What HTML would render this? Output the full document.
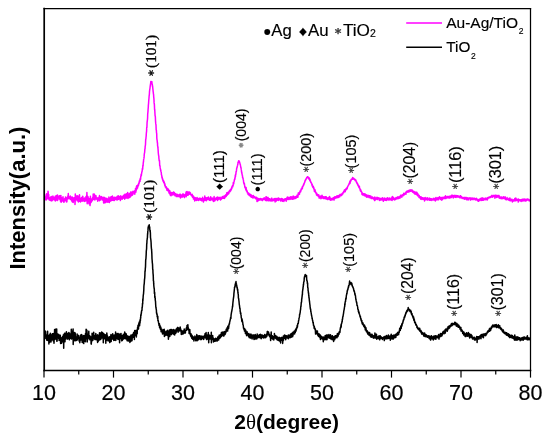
<!DOCTYPE html>
<html><head><meta charset="utf-8"><style>
html,body{margin:0;padding:0;background:#fff;}
body{width:550px;height:443px;overflow:hidden;}
svg{display:block;}
</style></head><body>
<svg width="550" height="443" viewBox="0 0 550 443">
<rect width="550" height="443" fill="#fff"/>
<polyline points="44.8,197.9 44.9,199.8 45.1,199.6 45.2,196.9 45.4,197.2 45.5,196.8 45.6,198.4 45.8,197.5 45.9,198.7 46.1,194.8 46.2,199.9 46.3,197.4 46.5,198.5 46.6,193.7 46.8,197.0 46.9,198.2 47.0,198.8 47.2,197.3 47.3,197.4 47.5,198.7 47.6,196.4 47.7,195.5 47.9,198.4 48.0,191.2 48.2,192.7 48.3,196.8 48.4,197.4 48.6,196.3 48.7,194.6 48.9,198.3 49.0,199.7 49.1,198.1 49.3,197.4 49.4,199.1 49.6,199.7 49.7,198.2 49.8,198.5 50.0,200.3 50.1,198.5 50.3,197.6 50.4,199.4 50.5,199.3 50.7,200.6 50.8,197.0 51.0,198.0 51.1,199.4 51.2,196.4 51.4,200.6 51.5,199.7 51.7,197.8 51.8,200.9 51.9,200.1 52.1,199.8 52.2,199.4 52.4,200.2 52.5,196.8 52.6,199.6 52.8,199.6 52.9,196.0 53.1,199.1 53.2,198.2 53.3,199.7 53.5,197.9 53.6,198.5 53.8,199.0 53.9,197.2 54.0,199.3 54.2,198.3 54.3,199.2 54.5,197.6 54.6,200.0 54.7,197.7 54.9,198.1 55.0,199.3 55.2,200.2 55.3,200.9 55.4,195.9 55.6,199.5 55.7,198.9 55.9,198.0 56.0,196.7 56.1,199.9 56.3,196.2 56.4,198.8 56.6,199.9 56.7,195.5 56.8,197.4 57.0,195.9 57.1,198.1 57.3,199.9 57.4,200.6 57.5,195.0 57.7,196.7 57.8,198.5 58.0,199.8 58.1,198.1 58.2,196.3 58.4,197.9 58.5,197.4 58.7,197.1 58.8,196.4 58.9,198.0 59.1,197.9 59.2,197.4 59.4,197.2 59.5,195.7 59.6,196.9 59.8,199.5 59.9,197.5 60.1,195.7 60.2,199.9 60.3,198.8 60.5,201.2 60.6,199.5 60.8,197.6 60.9,195.5 61.0,200.4 61.2,202.3 61.3,197.5 61.5,197.8 61.6,199.7 61.7,197.8 61.9,198.7 62.0,198.7 62.2,199.6 62.3,201.0 62.4,199.6 62.6,201.0 62.7,199.1 62.9,200.3 63.0,196.8 63.1,197.9 63.3,201.3 63.4,199.3 63.6,201.1 63.7,201.1 63.8,202.2 64.0,201.5 64.1,201.8 64.3,200.2 64.4,199.3 64.5,199.2 64.7,199.5 64.8,198.5 65.0,199.3 65.1,199.9 65.2,200.3 65.4,199.4 65.5,197.0 65.7,199.6 65.8,199.9 65.9,201.0 66.1,200.2 66.2,198.3 66.4,198.1 66.5,201.9 66.6,200.0 66.8,201.4 66.9,201.7 67.1,197.3 67.2,198.9 67.3,198.9 67.5,198.9 67.6,198.8 67.8,198.2 67.9,198.1 68.0,195.6 68.2,197.4 68.3,193.6 68.5,197.7 68.6,196.8 68.7,198.4 68.9,198.6 69.0,197.9 69.2,197.9 69.3,197.6 69.4,196.9 69.6,197.3 69.7,196.9 69.9,198.3 70.0,197.8 70.1,198.7 70.3,196.1 70.4,199.4 70.6,197.1 70.7,197.2 70.8,198.1 71.0,197.7 71.1,199.0 71.3,197.9 71.4,197.3 71.5,197.7 71.7,200.9 71.8,199.2 72.0,197.5 72.1,199.3 72.2,197.1 72.4,201.9 72.5,197.2 72.7,200.1 72.8,200.2 72.9,197.4 73.1,199.9 73.2,202.4 73.4,200.1 73.5,199.8 73.6,200.8 73.8,199.7 73.9,199.9 74.1,198.0 74.2,200.3 74.3,198.0 74.5,200.4 74.6,198.5 74.8,197.6 74.9,199.7 75.0,204.5 75.2,200.4 75.3,194.1 75.5,199.9 75.6,198.2 75.7,198.6 75.9,198.9 76.0,195.4 76.2,198.9 76.3,197.1 76.4,197.6 76.6,196.4 76.7,196.3 76.9,197.1 77.0,199.6 77.1,200.8 77.3,198.4 77.4,199.9 77.6,198.0 77.7,195.7 77.8,198.6 78.0,199.1 78.1,197.8 78.3,198.9 78.4,202.1 78.5,197.3 78.7,196.5 78.8,198.3 79.0,198.3 79.1,198.2 79.2,200.1 79.4,201.2 79.5,194.7 79.7,199.8 79.8,200.2 79.9,199.9 80.1,200.4 80.2,198.4 80.4,200.0 80.5,201.9 80.6,200.2 80.8,198.2 80.9,200.0 81.1,201.0 81.2,200.6 81.3,198.5 81.5,198.2 81.6,197.6 81.8,200.1 81.9,199.4 82.0,197.8 82.2,201.2 82.3,200.0 82.5,197.9 82.6,200.4 82.7,196.3 82.9,197.0 83.0,198.7 83.2,200.0 83.3,200.5 83.4,199.9 83.6,199.7 83.7,200.3 83.9,199.3 84.0,201.2 84.1,199.7 84.3,199.9 84.4,200.2 84.6,197.9 84.7,198.4 84.8,201.4 85.0,199.7 85.1,198.8 85.3,199.6 85.4,198.4 85.5,199.4 85.7,198.0 85.8,199.3 86.0,196.6 86.1,200.7 86.2,199.7 86.4,196.5 86.5,198.4 86.7,198.2 86.8,198.9 86.9,192.5 87.1,199.3 87.2,203.8 87.4,197.0 87.5,199.3 87.6,198.4 87.8,199.2 87.9,196.5 88.1,197.5 88.2,199.8 88.3,201.4 88.5,201.6 88.6,198.4 88.8,199.7 88.9,203.7 89.0,198.6 89.2,198.5 89.3,199.8 89.5,199.8 89.6,201.1 89.7,200.2 89.9,199.0 90.0,205.6 90.2,203.7 90.3,201.8 90.4,196.2 90.6,199.8 90.7,198.8 90.9,200.8 91.0,199.6 91.1,202.5 91.3,201.0 91.4,200.8 91.6,199.7 91.7,199.3 91.8,199.7 92.0,200.9 92.1,199.7 92.3,198.3 92.4,200.5 92.5,200.5 92.7,198.3 92.8,197.2 93.0,197.4 93.1,197.2 93.2,194.1 93.4,199.3 93.5,198.6 93.7,197.4 93.8,199.1 93.9,198.2 94.1,198.0 94.2,194.0 94.4,197.1 94.5,198.2 94.6,199.6 94.8,200.0 94.9,195.1 95.1,195.9 95.2,195.9 95.3,198.3 95.5,197.6 95.6,199.0 95.8,197.5 95.9,198.1 96.0,195.8 96.2,198.6 96.3,197.4 96.5,198.6 96.6,198.9 96.7,197.7 96.9,198.8 97.0,198.5 97.2,199.6 97.3,199.3 97.4,198.0 97.6,198.0 97.7,201.2 97.9,198.7 98.0,200.2 98.1,199.4 98.3,198.1 98.4,197.9 98.6,199.0 98.7,199.2 98.8,199.7 99.0,197.0 99.1,197.9 99.3,198.5 99.4,200.8 99.5,195.5 99.7,199.0 99.8,197.6 100.0,198.8 100.1,197.5 100.2,198.6 100.4,200.1 100.5,198.4 100.7,198.5 100.8,198.3 100.9,196.8 101.1,198.5 101.2,197.2 101.4,196.6 101.5,197.7 101.6,197.4 101.8,198.8 101.9,197.7 102.1,197.1 102.2,199.9 102.3,199.3 102.5,199.8 102.6,199.0 102.8,198.1 102.9,197.8 103.0,198.1 103.2,199.9 103.3,198.9 103.5,199.4 103.6,203.1 103.7,197.2 103.9,199.5 104.0,197.7 104.2,197.8 104.3,200.4 104.4,199.6 104.6,197.6 104.7,201.0 104.9,203.0 105.0,198.1 105.1,202.7 105.3,199.4 105.4,199.7 105.6,200.2 105.7,198.5 105.8,202.3 106.0,201.2 106.1,199.5 106.3,200.2 106.4,198.5 106.5,200.1 106.7,201.8 106.8,198.2 107.0,199.8 107.1,200.6 107.2,201.7 107.4,202.1 107.5,199.6 107.7,199.1 107.8,200.7 107.9,199.5 108.1,199.5 108.2,201.3 108.4,202.1 108.5,200.1 108.6,199.4 108.8,200.4 108.9,197.0 109.1,199.5 109.2,198.0 109.3,202.6 109.5,200.3 109.6,199.5 109.8,199.0 109.9,199.3 110.0,200.1 110.2,201.3 110.3,198.1 110.5,200.0 110.6,200.0 110.7,196.9 110.9,200.3 111.0,200.8 111.2,199.2 111.3,198.8 111.4,200.0 111.6,196.8 111.7,199.0 111.9,200.3 112.0,197.2 112.1,200.2 112.3,198.3 112.4,196.0 112.6,198.7 112.7,197.5 112.8,199.2 113.0,197.3 113.1,200.2 113.3,197.8 113.4,199.3 113.5,198.1 113.7,198.4 113.8,200.4 114.0,199.1 114.1,198.3 114.2,197.2 114.4,200.4 114.5,199.8 114.7,198.4 114.8,199.1 114.9,197.4 115.1,197.4 115.2,197.6 115.4,199.1 115.5,199.0 115.6,197.6 115.8,199.5 115.9,199.5 116.1,198.7 116.2,199.8 116.3,198.0 116.5,198.2 116.6,198.9 116.8,198.2 116.9,199.2 117.0,196.5 117.2,200.0 117.3,197.0 117.5,197.8 117.6,196.2 117.7,198.7 117.9,199.6 118.0,199.3 118.2,198.9 118.3,195.8 118.4,196.8 118.6,197.2 118.7,196.5 118.9,199.2 119.0,197.9 119.1,197.6 119.3,197.0 119.4,196.4 119.6,196.4 119.7,196.4 119.8,198.2 120.0,198.0 120.1,198.3 120.3,198.9 120.4,200.6 120.5,196.8 120.7,197.7 120.8,195.8 121.0,196.8 121.1,198.8 121.2,198.9 121.4,198.9 121.5,197.6 121.7,197.3 121.8,198.9 121.9,197.1 122.1,198.0 122.2,199.3 122.4,197.1 122.5,196.8 122.6,197.5 122.8,198.3 122.9,198.2 123.1,197.7 123.2,198.2 123.3,195.4 123.5,196.4 123.6,197.6 123.8,196.2 123.9,195.6 124.0,195.8 124.2,196.1 124.3,194.7 124.5,195.9 124.6,197.4 124.7,199.2 124.9,194.2 125.0,198.5 125.2,197.2 125.3,195.4 125.4,196.4 125.6,195.4 125.7,197.5 125.9,195.0 126.0,198.1 126.1,197.1 126.3,193.7 126.4,197.2 126.6,198.1 126.7,195.1 126.8,196.3 127.0,193.7 127.1,196.2 127.3,193.8 127.4,196.4 127.5,193.6 127.7,192.5 127.8,196.2 128.0,198.5 128.1,194.9 128.2,196.6 128.4,195.7 128.5,195.1 128.7,196.3 128.8,197.5 128.9,193.9 129.1,196.1 129.2,197.3 129.4,193.5 129.5,197.2 129.6,197.5 129.8,193.9 129.9,197.1 130.1,195.0 130.2,194.6 130.3,196.5 130.5,196.7 130.6,192.0 130.8,196.3 130.9,195.9 131.0,195.3 131.2,192.5 131.3,192.2 131.5,195.3 131.6,192.8 131.7,194.0 131.9,192.4 132.0,193.4 132.2,192.0 132.3,195.3 132.4,192.1 132.6,193.1 132.7,192.9 132.9,194.4 133.0,191.3 133.1,192.8 133.3,192.8 133.4,193.2 133.6,193.1 133.7,191.9 133.8,192.6 134.0,191.8 134.1,192.6 134.3,191.8 134.4,191.1 134.5,191.6 134.7,191.9 134.8,194.2 135.0,190.6 135.1,191.3 135.2,192.3 135.4,190.5 135.5,188.5 135.7,188.8 135.8,189.4 135.9,192.1 136.1,189.8 136.2,190.4 136.4,188.7 136.5,186.2 136.6,186.1 136.8,189.1 136.9,188.0 137.1,186.3 137.2,188.4 137.3,185.6 137.5,187.9 137.6,187.9 137.8,185.5 137.9,184.9 138.0,186.4 138.2,184.4 138.3,185.8 138.5,183.7 138.6,185.1 138.7,184.1 138.9,183.3 139.0,182.5 139.2,183.1 139.3,180.9 139.4,181.8 139.6,180.8 139.7,181.7 139.9,179.7 140.0,181.5 140.1,179.4 140.3,178.3 140.4,179.6 140.6,179.3 140.7,177.3 140.8,176.2 141.0,176.3 141.1,174.5 141.3,174.7 141.4,175.5 141.5,173.8 141.7,173.0 141.8,172.4 142.0,171.4 142.1,171.3 142.2,170.5 142.4,168.7 142.5,168.2 142.7,169.1 142.8,166.7 142.9,165.3 143.1,166.0 143.2,163.5 143.4,161.7 143.5,161.9 143.6,159.7 143.8,158.9 143.9,158.4 144.1,156.9 144.2,155.2 144.3,154.1 144.5,152.8 144.6,152.8 144.8,150.1 144.9,148.8 145.0,149.3 145.2,146.0 145.3,146.0 145.5,144.5 145.6,141.7 145.7,139.3 145.9,139.0 146.0,137.5 146.2,136.0 146.3,133.7 146.4,132.7 146.6,131.1 146.7,127.5 146.9,127.5 147.0,124.7 147.1,122.3 147.3,120.6 147.4,120.3 147.6,117.7 147.7,113.9 147.8,113.2 148.0,111.1 148.1,109.2 148.3,107.1 148.4,104.5 148.5,104.3 148.7,101.3 148.8,99.8 149.0,98.0 149.1,96.2 149.2,95.6 149.4,93.8 149.5,91.6 149.7,90.0 149.8,89.0 149.9,88.8 150.1,87.1 150.2,86.1 150.4,84.8 150.5,84.0 150.6,83.7 150.8,81.6 150.9,83.6 151.1,81.6 151.2,81.5 151.3,82.8 151.5,82.1 151.6,82.1 151.8,82.0 151.9,81.7 152.0,83.5 152.2,84.9 152.3,84.2 152.5,86.6 152.6,85.9 152.7,87.3 152.9,89.3 153.0,90.2 153.2,92.1 153.3,92.2 153.4,93.8 153.6,94.7 153.7,96.8 153.9,98.5 154.0,100.0 154.1,102.9 154.3,103.9 154.4,104.8 154.6,109.6 154.7,109.1 154.8,110.7 155.0,114.2 155.1,115.9 155.3,116.2 155.4,117.7 155.5,120.5 155.7,123.1 155.8,123.9 156.0,125.0 156.1,127.6 156.2,130.2 156.4,130.2 156.5,132.6 156.7,133.6 156.8,137.6 156.9,139.1 157.1,140.1 157.2,141.0 157.4,143.1 157.5,142.8 157.6,145.9 157.8,146.3 157.9,147.7 158.1,149.6 158.2,151.2 158.3,153.0 158.5,154.6 158.6,155.5 158.8,156.0 158.9,158.3 159.0,158.9 159.2,160.9 159.3,160.6 159.5,160.5 159.6,163.0 159.7,165.8 159.9,165.6 160.0,166.1 160.2,167.7 160.3,168.3 160.4,169.1 160.6,169.3 160.7,170.5 160.9,171.3 161.0,171.5 161.1,171.9 161.3,172.7 161.4,174.6 161.6,175.0 161.7,175.5 161.8,176.1 162.0,178.0 162.1,177.0 162.3,178.1 162.4,179.2 162.5,178.5 162.7,179.1 162.8,180.1 163.0,181.0 163.1,180.5 163.2,180.9 163.4,181.2 163.5,180.6 163.7,182.7 163.8,182.1 163.9,181.4 164.1,182.9 164.2,182.1 164.4,182.9 164.5,184.1 164.6,183.7 164.8,185.5 164.9,183.8 165.1,185.5 165.2,186.0 165.3,187.0 165.5,186.9 165.6,186.6 165.8,186.7 165.9,186.8 166.0,188.0 166.2,186.8 166.3,188.0 166.5,187.7 166.6,188.2 166.7,188.0 166.9,190.2 167.0,188.0 167.2,189.0 167.3,189.2 167.4,189.7 167.6,189.8 167.7,190.0 167.9,190.7 168.0,188.7 168.1,190.3 168.3,189.4 168.4,190.9 168.6,189.9 168.7,190.3 168.8,191.3 169.0,192.8 169.1,192.2 169.3,192.2 169.4,193.4 169.5,191.4 169.7,190.5 169.8,192.2 170.0,192.5 170.1,194.0 170.2,194.9 170.4,191.9 170.5,195.4 170.7,194.7 170.8,194.3 170.9,193.7 171.1,195.7 171.2,193.6 171.4,193.1 171.5,193.7 171.6,192.4 171.8,194.1 171.9,193.6 172.1,194.0 172.2,194.1 172.3,192.8 172.5,195.0 172.6,192.9 172.8,194.6 172.9,192.4 173.0,194.2 173.2,193.2 173.3,194.0 173.5,193.4 173.6,192.0 173.7,193.1 173.9,194.3 174.0,194.8 174.2,193.0 174.3,192.4 174.4,193.7 174.6,194.4 174.7,194.0 174.9,194.1 175.0,195.6 175.1,195.8 175.3,195.6 175.4,194.1 175.6,193.6 175.7,194.9 175.8,193.8 176.0,196.0 176.1,195.3 176.3,194.8 176.4,196.6 176.5,196.0 176.7,196.1 176.8,196.5 177.0,196.0 177.1,194.2 177.2,195.0 177.4,196.2 177.5,194.6 177.7,195.3 177.8,195.7 177.9,196.6 178.1,196.5 178.2,196.1 178.4,195.1 178.5,196.1 178.6,195.8 178.8,195.2 178.9,196.6 179.1,195.9 179.2,194.8 179.3,196.7 179.5,195.3 179.6,196.2 179.8,194.3 179.9,195.8 180.0,194.6 180.2,195.1 180.3,194.3 180.5,198.0 180.6,196.0 180.7,196.4 180.9,197.3 181.0,196.2 181.2,196.8 181.3,195.2 181.4,196.6 181.6,196.1 181.7,196.9 181.9,196.6 182.0,195.2 182.1,194.7 182.3,195.5 182.4,197.0 182.6,196.7 182.7,197.0 182.8,194.4 183.0,193.8 183.1,195.6 183.3,195.8 183.4,195.5 183.5,196.3 183.7,195.8 183.8,194.8 184.0,195.0 184.1,195.9 184.2,195.8 184.4,195.6 184.5,197.6 184.7,195.3 184.8,195.6 184.9,194.6 185.1,195.1 185.2,195.8 185.4,195.7 185.5,195.0 185.6,195.4 185.8,195.0 185.9,193.3 186.1,192.0 186.2,196.7 186.3,195.3 186.5,194.4 186.6,192.9 186.8,193.1 186.9,195.2 187.0,191.6 187.2,193.6 187.3,194.5 187.5,193.7 187.6,194.1 187.7,193.3 187.9,195.3 188.0,192.3 188.2,192.0 188.3,193.3 188.4,194.9 188.6,192.9 188.7,193.7 188.9,192.4 189.0,191.9 189.1,194.0 189.3,194.2 189.4,194.2 189.6,192.7 189.7,192.3 189.8,192.4 190.0,193.5 190.1,194.1 190.3,194.2 190.4,192.7 190.5,194.2 190.7,194.3 190.8,194.5 191.0,194.6 191.1,194.6 191.2,195.4 191.4,195.2 191.5,195.5 191.7,194.9 191.8,196.0 191.9,195.7 192.1,194.2 192.2,194.7 192.4,196.1 192.5,197.3 192.6,196.5 192.8,196.7 192.9,197.2 193.1,197.1 193.2,196.9 193.3,195.9 193.5,199.1 193.6,196.3 193.8,197.5 193.9,198.5 194.0,198.3 194.2,198.6 194.3,198.9 194.5,199.4 194.6,198.6 194.7,200.9 194.9,197.6 195.0,198.7 195.2,198.2 195.3,198.1 195.4,198.9 195.6,199.9 195.7,198.0 195.9,198.1 196.0,199.3 196.1,199.2 196.3,200.4 196.4,199.6 196.6,198.9 196.7,198.5 196.8,198.9 197.0,198.6 197.1,197.6 197.3,198.8 197.4,199.7 197.5,198.6 197.7,198.5 197.8,200.3 198.0,199.5 198.1,199.7 198.2,198.4 198.4,200.5 198.5,198.8 198.7,199.2 198.8,198.7 198.9,198.9 199.1,199.9 199.2,199.4 199.4,198.3 199.5,198.8 199.6,198.6 199.8,199.3 199.9,198.2 200.1,199.1 200.2,199.9 200.3,199.3 200.5,198.5 200.6,198.8 200.8,199.5 200.9,199.8 201.0,200.2 201.2,199.4 201.3,198.4 201.5,200.8 201.6,199.8 201.7,200.0 201.9,199.9 202.0,198.4 202.2,199.5 202.3,200.0 202.4,200.7 202.6,199.9 202.7,197.2 202.9,199.7 203.0,200.2 203.1,201.0 203.3,200.5 203.4,202.0 203.6,201.1 203.7,201.0 203.8,200.7 204.0,198.7 204.1,200.6 204.3,200.3 204.4,199.3 204.5,200.2 204.7,200.0 204.8,196.1 205.0,199.5 205.1,199.3 205.2,199.7 205.4,200.4 205.5,199.8 205.7,197.7 205.8,199.0 205.9,197.8 206.1,198.7 206.2,199.5 206.4,200.7 206.5,198.9 206.6,199.0 206.8,200.2 206.9,197.9 207.1,199.5 207.2,197.5 207.3,198.3 207.5,198.8 207.6,197.9 207.8,198.8 207.9,199.2 208.0,197.6 208.2,198.5 208.3,198.3 208.5,197.0 208.6,198.4 208.7,197.9 208.9,199.7 209.0,197.9 209.2,200.1 209.3,198.2 209.4,200.3 209.6,199.2 209.7,199.1 209.9,199.5 210.0,199.6 210.1,200.0 210.3,200.4 210.4,198.7 210.6,198.0 210.7,196.8 210.8,198.8 211.0,199.8 211.1,199.5 211.3,199.3 211.4,198.9 211.5,198.7 211.7,199.1 211.8,199.6 212.0,197.9 212.1,200.0 212.2,198.2 212.4,199.2 212.5,198.9 212.7,199.1 212.8,198.5 212.9,198.4 213.1,199.2 213.2,198.4 213.4,201.4 213.5,199.0 213.6,198.7 213.8,198.8 213.9,198.3 214.1,196.5 214.2,199.0 214.3,199.4 214.5,197.9 214.6,200.9 214.8,198.1 214.9,199.0 215.0,200.6 215.2,199.4 215.3,199.3 215.5,198.4 215.6,199.6 215.7,198.5 215.9,199.2 216.0,199.5 216.2,198.6 216.3,197.8 216.4,199.3 216.6,197.9 216.7,198.1 216.9,197.9 217.0,199.5 217.1,198.6 217.3,196.9 217.4,199.3 217.6,200.4 217.7,200.1 217.8,198.2 218.0,198.7 218.1,199.0 218.3,199.3 218.4,198.6 218.5,197.6 218.7,199.1 218.8,199.0 219.0,197.4 219.1,198.1 219.2,198.6 219.4,198.4 219.5,198.8 219.7,199.0 219.8,198.8 219.9,198.3 220.1,197.3 220.2,198.9 220.4,199.5 220.5,200.0 220.6,198.4 220.8,198.4 220.9,199.5 221.1,199.5 221.2,198.6 221.3,198.9 221.5,197.7 221.6,198.8 221.8,197.6 221.9,198.1 222.0,198.1 222.2,197.8 222.3,196.4 222.5,197.4 222.6,198.2 222.7,197.8 222.9,197.5 223.0,198.1 223.2,198.2 223.3,198.2 223.4,196.8 223.6,197.4 223.7,197.0 223.9,196.5 224.0,195.9 224.1,196.9 224.3,196.2 224.4,198.4 224.6,196.6 224.7,196.4 224.8,196.2 225.0,197.8 225.1,195.5 225.3,196.0 225.4,195.4 225.5,195.8 225.7,195.7 225.8,196.4 226.0,194.4 226.1,195.3 226.2,196.4 226.4,194.7 226.5,194.8 226.7,194.2 226.8,192.7 226.9,194.5 227.1,195.3 227.2,193.9 227.4,192.8 227.5,194.2 227.6,193.9 227.8,194.4 227.9,194.2 228.1,193.2 228.2,193.6 228.3,191.9 228.5,193.8 228.6,193.0 228.8,193.5 228.9,193.3 229.0,192.2 229.2,192.2 229.3,191.5 229.5,190.5 229.6,191.7 229.7,191.7 229.9,190.6 230.0,191.7 230.2,191.1 230.3,191.1 230.4,190.1 230.6,189.2 230.7,190.7 230.9,190.5 231.0,189.6 231.1,189.2 231.3,189.6 231.4,188.8 231.6,188.3 231.7,187.1 231.8,188.6 232.0,186.8 232.1,187.2 232.3,186.9 232.4,186.9 232.5,185.4 232.7,186.8 232.8,186.0 233.0,185.7 233.1,185.6 233.2,184.0 233.4,182.2 233.5,183.7 233.7,183.8 233.8,183.2 233.9,181.8 234.1,181.5 234.2,181.2 234.4,179.6 234.5,179.6 234.6,179.0 234.8,179.5 234.9,177.8 235.1,178.2 235.2,176.8 235.3,175.3 235.5,176.5 235.6,174.3 235.8,174.3 235.9,174.1 236.0,172.3 236.2,171.2 236.3,171.6 236.5,170.4 236.6,169.0 236.7,168.0 236.9,167.9 237.0,167.8 237.2,166.5 237.3,166.2 237.4,166.0 237.6,165.2 237.7,164.7 237.9,164.1 238.0,162.2 238.1,163.0 238.3,162.3 238.4,161.8 238.6,161.1 238.7,160.7 238.8,160.9 239.0,161.4 239.1,160.9 239.3,161.2 239.4,161.5 239.5,162.4 239.7,162.4 239.8,162.8 240.0,164.0 240.1,163.8 240.2,164.7 240.4,164.7 240.5,166.0 240.7,166.6 240.8,167.3 240.9,167.8 241.1,168.3 241.2,169.4 241.4,170.1 241.5,171.6 241.6,172.3 241.8,172.1 241.9,173.9 242.1,174.0 242.2,175.2 242.3,175.4 242.5,175.7 242.6,177.6 242.8,177.8 242.9,177.8 243.0,178.2 243.2,179.4 243.3,179.7 243.5,180.7 243.6,182.0 243.7,182.8 243.9,182.4 244.0,183.8 244.2,184.2 244.3,183.8 244.4,183.6 244.6,185.5 244.7,185.8 244.9,187.3 245.0,187.2 245.1,187.2 245.3,188.2 245.4,187.0 245.6,188.1 245.7,188.2 245.8,189.8 246.0,189.4 246.1,187.5 246.3,190.6 246.4,189.5 246.5,190.9 246.7,190.3 246.8,191.1 247.0,191.6 247.1,191.6 247.2,191.1 247.4,192.9 247.5,192.5 247.7,192.5 247.8,193.2 247.9,192.5 248.1,194.4 248.2,193.5 248.4,193.7 248.5,193.9 248.6,193.2 248.8,193.2 248.9,194.3 249.1,194.5 249.2,195.4 249.3,194.9 249.5,193.9 249.6,195.2 249.8,195.5 249.9,195.7 250.0,195.4 250.2,194.4 250.3,196.2 250.5,194.9 250.6,195.9 250.7,194.5 250.9,196.3 251.0,195.2 251.2,196.7 251.3,197.3 251.4,196.9 251.6,195.3 251.7,195.5 251.9,195.6 252.0,196.8 252.1,196.6 252.3,196.6 252.4,196.7 252.6,197.0 252.7,197.1 252.8,197.9 253.0,196.7 253.1,196.9 253.3,195.4 253.4,195.8 253.5,196.3 253.7,196.0 253.8,197.1 254.0,197.7 254.1,196.6 254.2,196.6 254.4,196.7 254.5,197.2 254.7,196.7 254.8,197.5 254.9,197.4 255.1,197.5 255.2,197.9 255.4,197.4 255.5,197.5 255.6,198.8 255.8,197.5 255.9,198.2 256.1,197.7 256.2,197.4 256.3,197.5 256.5,197.3 256.6,198.0 256.8,197.7 256.9,197.9 257.0,201.6 257.2,199.5 257.3,199.4 257.5,198.8 257.6,199.4 257.7,198.4 257.9,199.1 258.0,201.0 258.2,199.8 258.3,200.0 258.4,199.5 258.6,200.0 258.7,198.6 258.9,198.9 259.0,199.9 259.1,200.2 259.3,199.4 259.4,199.6 259.6,199.4 259.7,199.6 259.8,198.8 260.0,198.7 260.1,199.7 260.3,198.4 260.4,199.0 260.5,199.2 260.7,198.9 260.8,199.9 261.0,199.3 261.1,199.6 261.2,198.8 261.4,199.0 261.5,199.9 261.7,199.8 261.8,199.1 261.9,199.7 262.1,199.6 262.2,199.5 262.4,200.6 262.5,199.1 262.6,199.7 262.8,199.7 262.9,199.3 263.1,198.4 263.2,199.8 263.3,199.5 263.5,199.3 263.6,199.3 263.8,199.3 263.9,198.5 264.0,199.4 264.2,197.8 264.3,199.2 264.5,198.1 264.6,198.9 264.7,199.7 264.9,199.0 265.0,199.7 265.2,199.6 265.3,199.0 265.4,198.9 265.6,198.9 265.7,200.4 265.9,199.7 266.0,196.7 266.1,198.3 266.3,199.7 266.4,200.4 266.6,199.6 266.7,197.1 266.8,200.8 267.0,198.0 267.1,200.2 267.3,199.9 267.4,198.0 267.5,199.1 267.7,200.4 267.8,200.2 268.0,198.1 268.1,197.5 268.2,198.5 268.4,198.6 268.5,198.9 268.7,200.8 268.8,199.5 268.9,199.2 269.1,199.2 269.2,199.9 269.4,200.0 269.5,198.8 269.6,200.6 269.8,198.7 269.9,199.3 270.1,199.9 270.2,200.9 270.3,199.3 270.5,199.8 270.6,200.6 270.8,200.1 270.9,199.8 271.0,200.5 271.2,199.9 271.3,200.2 271.5,200.4 271.6,198.2 271.7,201.0 271.9,198.3 272.0,199.1 272.2,200.9 272.3,200.1 272.4,199.3 272.6,200.1 272.7,200.6 272.9,199.4 273.0,200.4 273.1,199.7 273.3,199.7 273.4,199.6 273.6,200.6 273.7,198.9 273.8,199.5 274.0,200.3 274.1,198.9 274.3,198.6 274.4,200.2 274.5,199.7 274.7,199.6 274.8,199.8 275.0,199.0 275.1,201.9 275.2,198.9 275.4,199.3 275.5,198.6 275.7,199.3 275.8,200.8 275.9,199.6 276.1,200.1 276.2,199.2 276.4,200.9 276.5,199.7 276.6,198.6 276.8,200.1 276.9,199.3 277.1,200.0 277.2,199.6 277.3,199.7 277.5,199.6 277.6,198.8 277.8,198.4 277.9,200.2 278.0,199.4 278.2,199.7 278.3,199.1 278.5,198.0 278.6,198.5 278.7,200.5 278.9,198.9 279.0,199.2 279.2,198.4 279.3,199.1 279.4,199.2 279.6,199.3 279.7,199.4 279.9,199.0 280.0,199.1 280.1,199.5 280.3,199.8 280.4,198.9 280.6,200.9 280.7,199.8 280.8,199.8 281.0,199.2 281.1,200.5 281.3,199.0 281.4,198.6 281.5,199.1 281.7,200.3 281.8,199.0 282.0,200.9 282.1,199.7 282.2,198.8 282.4,201.2 282.5,201.3 282.7,199.4 282.8,199.0 282.9,200.4 283.1,200.9 283.2,200.7 283.4,199.7 283.5,200.1 283.6,200.1 283.8,200.7 283.9,201.4 284.1,199.7 284.2,200.7 284.3,199.4 284.5,200.1 284.6,198.9 284.8,199.0 284.9,199.8 285.0,198.8 285.2,200.0 285.3,198.9 285.5,199.3 285.6,199.1 285.7,198.9 285.9,199.1 286.0,199.8 286.2,201.2 286.3,198.4 286.4,199.1 286.6,198.7 286.7,198.1 286.9,198.9 287.0,198.0 287.1,198.6 287.3,199.5 287.4,197.1 287.6,198.8 287.7,198.9 287.8,197.9 288.0,198.9 288.1,198.8 288.3,198.3 288.4,199.4 288.5,197.6 288.7,199.0 288.8,197.4 289.0,197.7 289.1,198.4 289.2,198.2 289.4,199.1 289.5,197.4 289.7,198.3 289.8,198.1 289.9,199.5 290.1,197.6 290.2,199.1 290.4,197.1 290.5,198.2 290.6,197.0 290.8,198.5 290.9,197.7 291.1,196.8 291.2,197.1 291.3,199.0 291.5,198.2 291.6,197.4 291.8,198.6 291.9,197.4 292.0,197.4 292.2,197.0 292.3,198.7 292.5,199.2 292.6,197.1 292.7,198.0 292.9,198.4 293.0,199.2 293.2,196.1 293.3,197.8 293.4,198.2 293.6,196.7 293.7,198.0 293.9,198.8 294.0,198.2 294.1,197.3 294.3,197.9 294.4,197.2 294.6,198.0 294.7,197.7 294.8,197.3 295.0,196.6 295.1,198.6 295.3,198.2 295.4,198.0 295.5,196.9 295.7,197.1 295.8,198.3 296.0,196.4 296.1,196.5 296.2,197.0 296.4,196.4 296.5,196.6 296.7,196.0 296.8,197.4 296.9,196.8 297.1,196.1 297.2,195.1 297.4,195.6 297.5,195.8 297.6,196.2 297.8,195.2 297.9,197.3 298.1,194.8 298.2,194.4 298.3,192.9 298.5,193.7 298.6,193.3 298.8,193.9 298.9,194.0 299.0,194.4 299.2,193.3 299.3,192.4 299.5,194.3 299.6,192.8 299.7,192.2 299.9,192.2 300.0,191.1 300.2,192.1 300.3,191.7 300.4,192.1 300.6,191.6 300.7,191.2 300.9,191.2 301.0,190.1 301.1,189.0 301.3,189.8 301.4,188.8 301.6,189.2 301.7,188.9 301.8,189.2 302.0,188.5 302.1,187.2 302.3,188.0 302.4,188.5 302.5,186.4 302.7,186.7 302.8,186.8 303.0,185.8 303.1,185.9 303.2,185.8 303.4,184.8 303.5,185.3 303.7,185.0 303.8,183.8 303.9,184.0 304.1,184.1 304.2,183.2 304.4,183.1 304.5,182.8 304.6,182.0 304.8,182.2 304.9,181.5 305.1,180.5 305.2,180.8 305.3,180.6 305.5,180.3 305.6,179.3 305.8,179.5 305.9,179.6 306.0,179.0 306.2,179.0 306.3,178.8 306.5,178.0 306.6,178.1 306.7,177.5 306.9,178.0 307.0,177.3 307.2,177.1 307.3,177.2 307.4,177.1 307.6,177.3 307.7,177.4 307.9,176.7 308.0,177.0 308.1,177.5 308.3,177.6 308.4,177.6 308.6,178.8 308.7,178.3 308.8,178.0 309.0,178.5 309.1,179.0 309.3,178.8 309.4,178.1 309.5,179.2 309.7,179.4 309.8,180.6 310.0,179.2 310.1,180.9 310.2,180.5 310.4,181.2 310.5,181.0 310.7,181.5 310.8,182.3 310.9,182.1 311.1,182.9 311.2,182.7 311.4,182.9 311.5,183.3 311.6,183.5 311.8,184.0 311.9,185.1 312.1,184.1 312.2,184.2 312.3,185.4 312.5,186.6 312.6,186.6 312.8,187.0 312.9,187.3 313.0,186.6 313.2,187.4 313.3,186.2 313.5,187.8 313.6,188.6 313.7,187.7 313.9,187.7 314.0,188.4 314.2,189.6 314.3,190.4 314.4,191.5 314.6,191.2 314.7,189.7 314.9,189.5 315.0,191.2 315.1,192.0 315.3,190.7 315.4,191.6 315.6,191.9 315.7,192.4 315.8,192.5 316.0,193.1 316.1,193.7 316.3,193.3 316.4,193.9 316.5,194.9 316.7,193.2 316.8,193.4 317.0,194.5 317.1,195.5 317.2,194.6 317.4,195.4 317.5,194.6 317.7,195.6 317.8,194.7 317.9,195.7 318.1,194.7 318.2,195.8 318.4,196.6 318.5,196.5 318.6,195.5 318.8,196.6 318.9,195.1 319.1,196.9 319.2,198.2 319.3,196.7 319.5,196.9 319.6,196.7 319.8,197.3 319.9,196.6 320.0,197.4 320.2,196.8 320.3,196.3 320.5,197.2 320.6,197.2 320.7,196.1 320.9,198.7 321.0,197.4 321.2,196.2 321.3,198.1 321.4,197.4 321.6,197.5 321.7,197.9 321.9,196.8 322.0,195.3 322.1,197.3 322.3,195.9 322.4,198.1 322.6,196.9 322.7,197.2 322.8,197.6 323.0,197.2 323.1,197.2 323.3,196.7 323.4,196.7 323.5,198.4 323.7,197.2 323.8,197.4 324.0,197.2 324.1,197.0 324.2,197.8 324.4,198.2 324.5,198.5 324.7,197.0 324.8,197.3 324.9,198.2 325.1,196.7 325.2,197.7 325.4,198.1 325.5,198.1 325.6,197.0 325.8,196.8 325.9,199.0 326.1,198.0 326.2,196.8 326.3,197.1 326.5,198.0 326.6,198.8 326.8,198.1 326.9,198.9 327.0,198.3 327.2,198.5 327.3,198.8 327.5,199.6 327.6,198.4 327.7,198.0 327.9,197.8 328.0,198.9 328.2,197.7 328.3,198.4 328.4,197.8 328.6,198.3 328.7,198.0 328.9,199.2 329.0,198.5 329.1,198.5 329.3,199.6 329.4,196.6 329.6,197.9 329.7,196.8 329.8,198.7 330.0,199.1 330.1,199.3 330.3,199.1 330.4,198.3 330.5,200.2 330.7,199.2 330.8,198.9 331.0,198.4 331.1,199.4 331.2,198.9 331.4,198.9 331.5,199.4 331.7,199.4 331.8,198.7 331.9,200.1 332.1,198.6 332.2,198.5 332.4,199.4 332.5,199.2 332.6,199.2 332.8,198.8 332.9,199.0 333.1,198.5 333.2,197.7 333.3,199.2 333.5,198.0 333.6,198.4 333.8,199.0 333.9,198.4 334.0,200.1 334.2,197.2 334.3,197.6 334.5,198.1 334.6,198.8 334.7,197.7 334.9,196.8 335.0,198.4 335.2,197.0 335.3,197.4 335.4,198.0 335.6,196.9 335.7,197.0 335.9,197.6 336.0,197.0 336.1,197.3 336.3,196.4 336.4,196.9 336.6,196.2 336.7,195.9 336.8,198.0 337.0,197.1 337.1,197.4 337.3,196.1 337.4,196.7 337.5,196.5 337.7,195.7 337.8,196.9 338.0,196.0 338.1,196.3 338.2,195.4 338.4,197.5 338.5,196.8 338.7,196.5 338.8,195.7 338.9,195.8 339.1,196.9 339.2,195.9 339.4,196.2 339.5,196.0 339.6,195.2 339.8,196.8 339.9,194.5 340.1,194.8 340.2,195.5 340.3,194.4 340.5,195.6 340.6,195.6 340.8,195.2 340.9,194.5 341.0,195.2 341.2,195.5 341.3,194.8 341.5,195.6 341.6,194.9 341.7,194.7 341.9,194.9 342.0,193.5 342.2,193.5 342.3,193.9 342.4,193.8 342.6,194.2 342.7,193.8 342.9,193.1 343.0,192.9 343.1,192.5 343.3,192.3 343.4,192.1 343.6,192.7 343.7,191.3 343.8,191.7 344.0,191.8 344.1,191.3 344.3,191.3 344.4,190.0 344.5,191.3 344.7,190.8 344.8,190.9 345.0,190.9 345.1,189.5 345.2,191.7 345.4,190.3 345.5,190.1 345.7,188.9 345.8,190.0 345.9,189.7 346.1,189.1 346.2,189.2 346.4,189.6 346.5,188.5 346.6,188.0 346.8,188.9 346.9,188.1 347.1,187.7 347.2,188.7 347.3,187.3 347.5,186.9 347.6,186.9 347.8,186.3 347.9,186.3 348.0,186.0 348.2,185.3 348.3,185.3 348.5,185.2 348.6,185.0 348.7,184.8 348.9,184.6 349.0,183.8 349.2,183.9 349.3,183.2 349.4,183.0 349.6,183.3 349.7,181.7 349.9,182.4 350.0,183.4 350.1,181.0 350.3,182.1 350.4,180.5 350.6,181.1 350.7,181.4 350.8,180.9 351.0,179.9 351.1,179.5 351.3,179.3 351.4,180.0 351.5,179.4 351.7,179.4 351.8,179.3 352.0,179.3 352.1,179.2 352.2,178.9 352.4,178.1 352.5,179.3 352.7,177.5 352.8,179.1 352.9,178.3 353.1,178.5 353.2,178.7 353.4,178.5 353.5,178.6 353.6,178.6 353.8,178.3 353.9,179.2 354.1,178.7 354.2,179.4 354.3,179.1 354.5,179.0 354.6,179.6 354.8,179.9 354.9,179.3 355.0,179.7 355.2,180.6 355.3,179.8 355.5,180.1 355.6,180.7 355.7,180.3 355.9,180.0 356.0,180.6 356.2,181.7 356.3,182.0 356.4,182.2 356.6,182.4 356.7,181.9 356.9,183.0 357.0,183.5 357.1,182.8 357.3,183.9 357.4,183.6 357.6,184.1 357.7,184.5 357.8,183.9 358.0,185.6 358.1,184.7 358.3,185.4 358.4,185.5 358.5,186.2 358.7,186.5 358.8,186.6 359.0,187.6 359.1,187.3 359.2,187.3 359.4,186.2 359.5,188.0 359.7,188.3 359.8,188.2 359.9,188.5 360.1,189.6 360.2,190.1 360.4,190.9 360.5,190.8 360.6,190.1 360.8,190.9 360.9,190.0 361.1,191.6 361.2,191.7 361.3,191.4 361.5,191.9 361.6,192.0 361.8,192.0 361.9,193.3 362.0,194.5 362.2,193.4 362.3,193.7 362.5,193.4 362.6,193.3 362.7,194.9 362.9,193.5 363.0,194.1 363.2,193.9 363.3,194.5 363.4,194.2 363.6,194.7 363.7,193.7 363.9,194.5 364.0,195.4 364.1,194.1 364.3,194.4 364.4,195.7 364.6,195.2 364.7,195.6 364.8,193.7 365.0,195.2 365.1,194.4 365.3,194.4 365.4,195.5 365.5,196.0 365.7,194.5 365.8,194.7 366.0,195.1 366.1,195.4 366.2,194.7 366.4,197.0 366.5,196.0 366.7,195.5 366.8,195.4 366.9,197.2 367.1,196.9 367.2,195.6 367.4,196.1 367.5,196.8 367.6,195.3 367.8,195.9 367.9,196.9 368.1,195.7 368.2,195.9 368.3,195.4 368.5,195.8 368.6,196.7 368.8,195.8 368.9,195.6 369.0,196.1 369.2,197.7 369.3,196.7 369.5,195.8 369.6,196.8 369.7,197.3 369.9,196.9 370.0,195.7 370.2,197.2 370.3,196.9 370.4,197.7 370.6,196.3 370.7,197.9 370.9,197.0 371.0,196.3 371.1,198.4 371.3,197.2 371.4,197.6 371.6,197.6 371.7,198.0 371.8,198.6 372.0,198.6 372.1,198.5 372.3,197.0 372.4,197.0 372.5,198.3 372.7,197.6 372.8,198.6 373.0,198.4 373.1,197.4 373.2,197.7 373.4,197.7 373.5,197.9 373.7,198.3 373.8,198.9 373.9,199.4 374.1,197.9 374.2,198.2 374.4,199.6 374.5,198.8 374.6,200.6 374.8,197.1 374.9,198.0 375.1,198.7 375.2,198.2 375.3,199.9 375.5,198.7 375.6,198.8 375.8,197.9 375.9,197.9 376.0,198.2 376.2,198.2 376.3,198.5 376.5,198.8 376.6,198.7 376.7,199.2 376.9,197.7 377.0,197.2 377.2,198.7 377.3,199.6 377.4,198.4 377.6,198.7 377.7,198.0 377.9,198.8 378.0,198.8 378.1,198.1 378.3,198.2 378.4,198.5 378.6,198.9 378.7,197.8 378.8,199.2 379.0,198.4 379.1,199.9 379.3,199.6 379.4,198.4 379.5,198.3 379.7,200.4 379.8,199.2 380.0,199.2 380.1,198.6 380.2,198.8 380.4,199.5 380.5,199.4 380.7,198.5 380.8,199.9 380.9,199.0 381.1,198.6 381.2,199.9 381.4,199.1 381.5,199.8 381.6,199.0 381.8,199.6 381.9,198.3 382.1,199.7 382.2,198.4 382.3,199.6 382.5,197.8 382.6,199.5 382.8,200.0 382.9,199.9 383.0,200.3 383.2,198.9 383.3,201.3 383.5,200.6 383.6,198.8 383.7,199.1 383.9,199.2 384.0,199.6 384.2,199.7 384.3,197.9 384.4,199.9 384.6,199.3 384.7,198.8 384.9,200.1 385.0,199.2 385.1,200.2 385.3,199.8 385.4,199.7 385.6,200.1 385.7,199.9 385.8,199.0 386.0,198.3 386.1,198.9 386.3,199.7 386.4,199.1 386.5,200.4 386.7,199.4 386.8,199.4 387.0,199.5 387.1,198.6 387.2,199.1 387.4,198.8 387.5,197.7 387.7,198.0 387.8,199.7 387.9,198.9 388.1,199.1 388.2,198.2 388.4,198.8 388.5,199.6 388.6,199.2 388.8,198.8 388.9,200.1 389.1,199.0 389.2,198.8 389.3,199.8 389.5,197.9 389.6,198.1 389.8,198.2 389.9,198.4 390.0,198.5 390.2,199.0 390.3,198.9 390.5,199.0 390.6,199.0 390.7,199.7 390.9,199.9 391.0,199.2 391.2,199.2 391.3,198.5 391.4,198.0 391.6,199.1 391.7,198.7 391.9,199.2 392.0,197.5 392.1,200.4 392.3,196.5 392.4,198.7 392.6,199.3 392.7,197.8 392.8,198.3 393.0,197.2 393.1,197.8 393.3,197.4 393.4,198.8 393.5,198.9 393.7,198.5 393.8,199.5 394.0,199.6 394.1,198.7 394.2,198.5 394.4,198.5 394.5,198.4 394.7,199.5 394.8,199.9 394.9,198.4 395.1,198.4 395.2,198.9 395.4,198.3 395.5,198.7 395.6,198.4 395.8,199.3 395.9,199.1 396.1,197.4 396.2,198.2 396.3,198.7 396.5,197.9 396.6,198.7 396.8,198.3 396.9,198.4 397.0,198.0 397.2,198.2 397.3,198.3 397.5,197.0 397.6,197.3 397.7,197.1 397.9,198.8 398.0,197.9 398.2,197.9 398.3,197.7 398.4,197.8 398.6,197.0 398.7,197.9 398.9,197.1 399.0,198.2 399.1,197.3 399.3,197.2 399.4,196.9 399.6,197.0 399.7,197.0 399.8,197.8 400.0,198.2 400.1,196.0 400.3,196.8 400.4,197.0 400.5,196.0 400.7,196.1 400.8,196.1 401.0,194.9 401.1,196.7 401.2,196.2 401.4,196.1 401.5,196.1 401.7,196.2 401.8,197.3 401.9,196.0 402.1,196.3 402.2,195.3 402.4,195.9 402.5,195.4 402.6,195.4 402.8,194.9 402.9,194.5 403.1,195.5 403.2,195.6 403.3,195.3 403.5,194.5 403.6,195.0 403.8,193.2 403.9,195.1 404.0,194.4 404.2,194.5 404.3,194.8 404.5,193.8 404.6,194.5 404.7,193.5 404.9,194.0 405.0,193.3 405.2,193.6 405.3,194.1 405.4,192.8 405.6,192.7 405.7,192.7 405.9,193.0 406.0,194.2 406.1,192.3 406.3,191.4 406.4,192.0 406.6,191.4 406.7,191.9 406.8,192.1 407.0,191.3 407.1,191.6 407.3,190.9 407.4,191.9 407.5,191.2 407.7,192.2 407.8,191.4 408.0,191.1 408.1,191.3 408.2,191.4 408.4,191.7 408.5,190.4 408.7,191.2 408.8,192.1 408.9,191.0 409.1,191.2 409.2,191.0 409.4,190.3 409.5,191.4 409.6,190.3 409.8,190.9 409.9,191.2 410.1,191.2 410.2,189.8 410.3,191.0 410.5,190.4 410.6,190.8 410.8,190.3 410.9,190.3 411.0,191.2 411.2,190.7 411.3,190.6 411.5,190.6 411.6,190.9 411.7,190.9 411.9,189.7 412.0,190.5 412.2,190.9 412.3,191.5 412.4,191.9 412.6,190.7 412.7,192.3 412.9,191.4 413.0,191.7 413.1,191.3 413.3,191.2 413.4,192.5 413.6,191.7 413.7,191.9 413.8,192.7 414.0,193.1 414.1,191.4 414.3,192.2 414.4,192.4 414.5,193.6 414.7,194.0 414.8,192.7 415.0,193.1 415.1,193.5 415.2,193.7 415.4,193.0 415.5,193.8 415.7,194.3 415.8,192.0 415.9,192.9 416.1,193.8 416.2,194.3 416.4,192.6 416.5,193.0 416.6,194.1 416.8,192.3 416.9,194.7 417.1,195.1 417.2,192.9 417.3,195.2 417.5,194.7 417.6,195.8 417.8,195.3 417.9,195.1 418.0,193.9 418.2,196.1 418.3,195.8 418.5,195.8 418.6,195.1 418.7,196.3 418.9,196.2 419.0,197.4 419.2,195.4 419.3,196.5 419.4,196.3 419.6,197.2 419.7,196.8 419.9,196.6 420.0,198.0 420.1,198.2 420.3,197.0 420.4,196.7 420.6,198.1 420.7,197.0 420.8,199.2 421.0,197.5 421.1,198.3 421.3,197.0 421.4,197.8 421.5,198.5 421.7,198.2 421.8,197.6 422.0,199.5 422.1,198.5 422.2,197.9 422.4,197.8 422.5,198.0 422.7,199.0 422.8,197.8 422.9,198.3 423.1,197.9 423.2,199.2 423.4,198.4 423.5,199.1 423.6,198.9 423.8,198.3 423.9,199.1 424.1,199.3 424.2,198.1 424.3,199.0 424.5,201.0 424.6,198.7 424.8,199.3 424.9,198.1 425.0,199.2 425.2,197.5 425.3,199.6 425.5,199.0 425.6,198.3 425.7,199.7 425.9,198.9 426.0,198.5 426.2,199.1 426.3,198.5 426.4,199.3 426.6,199.1 426.7,198.9 426.9,199.5 427.0,198.3 427.1,199.7 427.3,197.8 427.4,200.1 427.6,199.2 427.7,198.9 427.8,198.6 428.0,199.4 428.1,199.0 428.3,199.0 428.4,199.7 428.5,198.8 428.7,198.9 428.8,199.4 429.0,199.8 429.1,198.1 429.2,199.2 429.4,199.2 429.5,199.6 429.7,200.1 429.8,198.6 429.9,199.1 430.1,199.2 430.2,199.6 430.4,200.2 430.5,199.3 430.6,199.4 430.8,200.0 430.9,198.6 431.1,198.9 431.2,199.1 431.3,199.3 431.5,199.5 431.6,199.0 431.8,200.4 431.9,198.9 432.0,199.2 432.2,200.0 432.3,199.8 432.5,199.3 432.6,199.5 432.7,199.8 432.9,199.3 433.0,199.7 433.2,198.7 433.3,199.3 433.4,198.3 433.6,198.7 433.7,198.6 433.9,200.1 434.0,199.0 434.1,199.5 434.3,198.7 434.4,199.2 434.6,199.2 434.7,198.8 434.8,199.9 435.0,198.3 435.1,199.8 435.3,201.0 435.4,198.9 435.5,199.4 435.7,198.4 435.8,199.4 436.0,197.4 436.1,199.8 436.2,199.1 436.4,198.3 436.5,198.6 436.7,198.4 436.8,199.2 436.9,199.9 437.1,199.1 437.2,198.6 437.4,198.8 437.5,199.3 437.6,197.7 437.8,199.6 437.9,199.4 438.1,197.6 438.2,199.8 438.3,198.0 438.5,198.8 438.6,199.7 438.8,197.9 438.9,197.7 439.0,198.1 439.2,198.1 439.3,198.6 439.5,196.8 439.6,198.3 439.7,198.2 439.9,198.4 440.0,197.9 440.2,198.6 440.3,198.3 440.4,197.7 440.6,199.4 440.7,197.5 440.9,198.7 441.0,197.7 441.1,198.4 441.3,198.5 441.4,198.7 441.6,199.0 441.7,197.6 441.8,200.2 442.0,198.4 442.1,197.6 442.3,197.3 442.4,199.5 442.5,199.3 442.7,198.1 442.8,198.5 443.0,198.9 443.1,198.1 443.2,197.8 443.4,198.0 443.5,198.5 443.7,198.0 443.8,197.2 443.9,198.4 444.1,196.9 444.2,197.4 444.4,198.6 444.5,198.0 444.6,197.9 444.8,197.8 444.9,198.6 445.1,198.2 445.2,196.5 445.3,197.8 445.5,195.7 445.6,196.3 445.8,198.5 445.9,198.1 446.0,197.2 446.2,197.4 446.3,197.4 446.5,198.0 446.6,196.9 446.7,196.8 446.9,196.9 447.0,197.4 447.2,197.4 447.3,196.8 447.4,197.7 447.6,196.6 447.7,197.2 447.9,196.8 448.0,196.6 448.1,197.9 448.3,197.0 448.4,196.6 448.6,197.2 448.7,197.5 448.8,197.5 449.0,197.6 449.1,197.7 449.3,196.4 449.4,197.0 449.5,198.1 449.7,196.8 449.8,197.7 450.0,197.8 450.1,196.1 450.2,197.5 450.4,197.2 450.5,197.2 450.7,197.6 450.8,196.9 450.9,196.6 451.1,196.9 451.2,196.3 451.4,196.7 451.5,195.2 451.6,197.4 451.8,196.0 451.9,196.6 452.1,196.4 452.2,196.3 452.3,196.3 452.5,196.2 452.6,195.3 452.8,195.9 452.9,195.9 453.0,195.6 453.2,195.6 453.3,197.9 453.5,196.9 453.6,197.1 453.7,196.2 453.9,196.4 454.0,196.3 454.2,196.6 454.3,196.2 454.4,195.5 454.6,195.9 454.7,195.5 454.9,197.2 455.0,196.1 455.1,196.3 455.3,196.5 455.4,196.4 455.6,196.2 455.7,196.1 455.8,195.5 456.0,197.4 456.1,195.4 456.3,196.1 456.4,196.0 456.5,196.1 456.7,196.4 456.8,196.8 457.0,195.8 457.1,196.6 457.2,196.4 457.4,197.1 457.5,195.7 457.7,196.5 457.8,196.8 457.9,195.7 458.1,196.5 458.2,196.6 458.4,196.0 458.5,196.4 458.6,197.1 458.8,196.7 458.9,196.4 459.1,196.5 459.2,196.9 459.3,197.5 459.5,197.2 459.6,197.2 459.8,197.8 459.9,196.1 460.0,196.2 460.2,195.8 460.3,197.6 460.5,195.8 460.6,197.2 460.7,197.7 460.9,196.5 461.0,197.0 461.2,197.2 461.3,197.8 461.4,196.6 461.6,197.7 461.7,197.9 461.9,197.7 462.0,197.7 462.1,198.4 462.3,197.8 462.4,197.7 462.6,197.5 462.7,198.1 462.8,197.6 463.0,198.2 463.1,197.9 463.3,198.5 463.4,197.4 463.5,198.0 463.7,198.1 463.8,198.2 464.0,198.6 464.1,198.2 464.2,198.6 464.4,199.2 464.5,198.6 464.7,197.5 464.8,197.3 464.9,198.5 465.1,197.9 465.2,198.4 465.4,198.1 465.5,199.0 465.6,198.9 465.8,197.6 465.9,198.4 466.1,198.1 466.2,197.6 466.3,198.7 466.5,198.3 466.6,198.6 466.8,199.8 466.9,199.2 467.0,199.1 467.2,198.2 467.3,197.8 467.5,199.2 467.6,198.5 467.7,198.6 467.9,198.3 468.0,198.6 468.2,200.0 468.3,198.4 468.4,198.5 468.6,198.8 468.7,198.9 468.9,198.0 469.0,197.7 469.1,198.4 469.3,198.6 469.4,198.3 469.6,198.2 469.7,198.3 469.8,198.6 470.0,198.8 470.1,197.9 470.3,198.6 470.4,200.1 470.5,198.8 470.7,198.1 470.8,198.7 471.0,197.9 471.1,199.4 471.2,198.0 471.4,199.4 471.5,198.7 471.7,199.1 471.8,199.4 471.9,198.5 472.1,198.5 472.2,199.0 472.4,198.3 472.5,199.1 472.6,198.1 472.8,198.5 472.9,199.1 473.1,199.6 473.2,198.6 473.3,198.7 473.5,198.7 473.6,198.8 473.8,198.3 473.9,198.6 474.0,198.9 474.2,198.9 474.3,198.8 474.5,198.2 474.6,198.5 474.7,198.4 474.9,199.5 475.0,199.7 475.2,199.1 475.3,199.9 475.4,198.8 475.6,198.9 475.7,199.7 475.9,199.3 476.0,198.9 476.1,199.3 476.3,199.6 476.4,198.2 476.6,198.7 476.7,199.4 476.8,199.4 477.0,199.5 477.1,200.0 477.3,199.5 477.4,199.5 477.5,200.7 477.7,200.4 477.8,199.7 478.0,199.3 478.1,200.7 478.2,200.1 478.4,200.4 478.5,201.3 478.7,199.8 478.8,200.0 478.9,199.7 479.1,200.0 479.2,199.7 479.4,199.3 479.5,200.5 479.6,199.9 479.8,200.6 479.9,199.5 480.1,199.9 480.2,200.1 480.3,198.6 480.5,198.9 480.6,200.0 480.8,199.6 480.9,198.5 481.0,199.1 481.2,198.9 481.3,199.2 481.5,200.3 481.6,199.0 481.7,200.5 481.9,199.2 482.0,197.8 482.2,200.1 482.3,199.8 482.4,200.0 482.6,200.3 482.7,199.8 482.9,199.8 483.0,198.1 483.1,198.6 483.3,199.3 483.4,199.2 483.6,199.4 483.7,198.8 483.8,199.6 484.0,200.1 484.1,199.3 484.3,199.4 484.4,199.2 484.5,199.4 484.7,199.0 484.8,198.6 485.0,199.0 485.1,198.9 485.2,198.0 485.4,198.9 485.5,198.8 485.7,198.9 485.8,199.8 485.9,199.0 486.1,199.1 486.2,198.3 486.4,198.9 486.5,199.2 486.6,199.1 486.8,198.2 486.9,198.2 487.1,198.7 487.2,198.0 487.3,200.0 487.5,198.1 487.6,198.1 487.8,198.8 487.9,198.2 488.0,197.6 488.2,198.2 488.3,197.7 488.5,197.9 488.6,197.2 488.7,197.5 488.9,197.9 489.0,197.8 489.2,197.2 489.3,197.3 489.4,197.2 489.6,197.6 489.7,197.4 489.9,196.7 490.0,197.7 490.1,196.9 490.3,197.4 490.4,196.6 490.6,197.2 490.7,196.9 490.8,196.9 491.0,197.1 491.1,197.0 491.3,196.8 491.4,196.8 491.5,196.0 491.7,196.6 491.8,195.4 492.0,195.3 492.1,196.3 492.2,196.3 492.4,197.2 492.5,196.7 492.7,196.0 492.8,196.1 492.9,196.5 493.1,196.8 493.2,196.5 493.4,196.3 493.5,196.2 493.6,195.6 493.8,195.6 493.9,195.3 494.1,196.2 494.2,195.9 494.3,195.6 494.5,196.2 494.6,195.7 494.8,196.5 494.9,198.3 495.0,196.2 495.2,195.6 495.3,195.2 495.5,197.0 495.6,196.3 495.7,195.4 495.9,196.6 496.0,195.2 496.2,195.9 496.3,196.0 496.4,196.0 496.6,195.6 496.7,197.5 496.9,196.0 497.0,196.5 497.1,196.3 497.3,195.5 497.4,196.1 497.6,196.5 497.7,197.0 497.8,196.3 498.0,196.8 498.1,196.4 498.3,197.0 498.4,195.4 498.5,196.7 498.7,196.5 498.8,196.5 499.0,195.4 499.1,196.4 499.2,197.3 499.4,198.3 499.5,196.7 499.7,196.8 499.8,197.5 499.9,197.4 500.1,197.0 500.2,197.2 500.4,198.0 500.5,197.7 500.6,197.8 500.8,198.4 500.9,197.3 501.1,197.9 501.2,197.6 501.3,198.0 501.5,197.0 501.6,198.7 501.8,197.7 501.9,198.4 502.0,197.2 502.2,198.2 502.3,197.9 502.5,197.5 502.6,197.3 502.7,197.2 502.9,198.7 503.0,198.4 503.2,197.8 503.3,197.9 503.4,197.4 503.6,196.8 503.7,196.9 503.9,197.5 504.0,197.8 504.1,197.3 504.3,198.4 504.4,198.3 504.6,198.2 504.7,197.2 504.8,198.1 505.0,198.2 505.1,197.6 505.3,196.9 505.4,199.5 505.5,198.8 505.7,198.4 505.8,199.5 506.0,199.3 506.1,199.0 506.2,198.9 506.4,199.3 506.5,199.7 506.7,199.0 506.8,198.9 506.9,199.4 507.1,197.6 507.2,199.2 507.4,199.0 507.5,199.3 507.6,199.2 507.8,199.5 507.9,199.4 508.1,199.4 508.2,199.4 508.3,199.3 508.5,199.2 508.6,200.1 508.8,198.6 508.9,199.7 509.0,199.8 509.2,198.9 509.3,198.6 509.5,200.4 509.6,199.6 509.7,199.2 509.9,198.0 510.0,199.9 510.2,199.7 510.3,200.0 510.4,200.8 510.6,199.7 510.7,199.8 510.9,199.3 511.0,200.8 511.1,199.7 511.3,200.2 511.4,200.1 511.6,199.4 511.7,199.6 511.8,200.6 512.0,199.3 512.1,200.3 512.3,200.8 512.4,202.0 512.5,200.1 512.7,200.8 512.8,200.2 513.0,200.1 513.1,200.0 513.2,200.8 513.4,200.5 513.5,201.0 513.7,200.0 513.8,200.0 513.9,199.9 514.1,200.3 514.2,199.8 514.4,200.7 514.5,200.4 514.6,199.6 514.8,198.5 514.9,199.1 515.1,200.9 515.2,200.1 515.3,200.2 515.5,199.8 515.6,200.3 515.8,198.0 515.9,198.9 516.0,199.1 516.2,200.0 516.3,200.4 516.5,200.2 516.6,199.9 516.7,199.2 516.9,200.4 517.0,199.8 517.2,199.9 517.3,199.9 517.4,199.7 517.6,199.5 517.7,199.6 517.9,199.2 518.0,200.1 518.1,199.8 518.3,202.1 518.4,199.0 518.6,200.6 518.7,199.9 518.8,199.9 519.0,199.6 519.1,199.6 519.3,200.3 519.4,200.6 519.5,199.9 519.7,200.5 519.8,200.6 520.0,199.8 520.1,200.0 520.2,199.9 520.4,200.7 520.5,200.2 520.7,200.3 520.8,200.6 520.9,200.2 521.1,201.4 521.2,199.7 521.4,200.9 521.5,201.0 521.6,199.6 521.8,200.7 521.9,200.4 522.1,200.7 522.2,199.6 522.3,200.4 522.5,199.7 522.6,200.0 522.8,201.0 522.9,200.1 523.0,198.9 523.2,199.4 523.3,199.5 523.5,200.7 523.6,199.7 523.7,199.2 523.9,200.7 524.0,200.2 524.2,200.2 524.3,199.6 524.4,200.8 524.6,199.9 524.7,198.9 524.9,199.4 525.0,199.5 525.1,199.5 525.3,200.4 525.4,199.5 525.6,199.6 525.7,201.1 525.8,200.0 526.0,199.6 526.1,199.9 526.3,199.2 526.4,200.2 526.5,200.4 526.7,199.6 526.8,200.4 527.0,199.7 527.1,200.0 527.2,199.4 527.4,199.4 527.5,199.0 527.7,200.0 527.8,199.7 527.9,199.7 528.1,199.2 528.2,199.2 528.4,199.5 528.5,200.1 528.6,200.0 528.8,199.4 528.9,200.0 529.1,200.8 529.2,199.9 529.3,200.9 529.5,200.1 529.6,200.6 529.8,199.6" fill="none" stroke="#ff00ff" stroke-width="1.5" stroke-linejoin="round"/>
<polyline points="44.8,337.7 44.9,336.9 45.1,336.2 45.2,331.0 45.4,337.3 45.5,331.4 45.6,338.3 45.8,337.6 45.9,338.2 46.1,338.2 46.2,337.0 46.3,335.1 46.5,335.7 46.6,339.9 46.8,335.2 46.9,336.0 47.0,335.0 47.2,340.4 47.3,336.1 47.5,332.1 47.6,331.2 47.7,340.0 47.9,335.7 48.0,337.4 48.2,335.9 48.3,337.4 48.4,340.4 48.6,335.7 48.7,337.4 48.9,343.9 49.0,335.3 49.1,335.9 49.3,336.6 49.4,341.7 49.6,342.2 49.7,334.8 49.8,338.9 50.0,337.6 50.1,336.3 50.3,333.2 50.4,340.0 50.5,335.7 50.7,338.3 50.8,337.8 51.0,341.9 51.1,340.4 51.2,335.1 51.4,337.1 51.5,340.1 51.7,334.7 51.8,336.8 51.9,338.3 52.1,334.1 52.2,335.0 52.4,333.9 52.5,338.5 52.6,336.6 52.8,340.0 52.9,338.2 53.1,339.2 53.2,333.5 53.3,340.9 53.5,337.8 53.6,335.8 53.8,340.7 53.9,340.3 54.0,343.2 54.2,337.8 54.3,336.8 54.5,334.9 54.6,329.4 54.7,335.2 54.9,339.2 55.0,336.1 55.2,332.2 55.3,335.4 55.4,336.7 55.6,337.1 55.7,336.9 55.9,329.0 56.0,338.9 56.1,333.8 56.3,337.2 56.4,336.5 56.6,340.2 56.7,329.1 56.8,341.2 57.0,338.8 57.1,341.1 57.3,335.1 57.4,336.2 57.5,338.2 57.7,334.1 57.8,336.9 58.0,336.5 58.1,335.4 58.2,335.8 58.4,334.4 58.5,336.6 58.7,338.5 58.8,336.1 58.9,334.4 59.1,340.4 59.2,338.9 59.4,338.3 59.5,337.8 59.6,337.2 59.8,339.9 59.9,337.5 60.1,338.8 60.2,335.6 60.3,335.3 60.5,338.2 60.6,343.4 60.8,339.6 60.9,343.6 61.0,340.3 61.2,340.3 61.3,338.0 61.5,339.3 61.6,343.3 61.7,341.9 61.9,337.8 62.0,338.1 62.2,342.0 62.3,337.8 62.4,340.9 62.6,336.6 62.7,339.9 62.9,341.8 63.0,340.0 63.1,338.5 63.3,338.1 63.4,334.7 63.6,337.4 63.7,348.3 63.8,339.6 64.0,337.5 64.1,333.9 64.3,335.4 64.4,337.1 64.5,336.4 64.7,333.2 64.8,337.5 65.0,341.8 65.1,333.2 65.2,336.0 65.4,339.4 65.5,333.7 65.7,334.9 65.8,336.2 65.9,337.1 66.1,334.9 66.2,338.1 66.4,331.7 66.5,337.4 66.6,336.9 66.8,335.8 66.9,337.0 67.1,336.3 67.2,339.3 67.3,335.3 67.5,336.3 67.6,333.4 67.8,334.0 67.9,336.0 68.0,333.2 68.2,334.8 68.3,333.7 68.5,335.6 68.6,336.9 68.7,338.8 68.9,332.4 69.0,336.2 69.2,338.5 69.3,339.6 69.4,339.7 69.6,333.3 69.7,335.3 69.9,337.6 70.0,338.4 70.1,336.8 70.3,336.7 70.4,336.6 70.6,334.3 70.7,336.2 70.8,337.6 71.0,335.0 71.1,338.2 71.3,329.3 71.4,334.7 71.5,339.1 71.7,337.2 71.8,338.4 72.0,335.5 72.1,332.6 72.2,334.0 72.4,338.5 72.5,331.1 72.7,333.0 72.8,331.4 72.9,334.0 73.1,328.9 73.2,344.6 73.4,333.6 73.5,339.3 73.6,337.1 73.8,334.7 73.9,333.7 74.1,332.7 74.2,336.4 74.3,340.7 74.5,332.4 74.6,334.4 74.8,336.6 74.9,335.8 75.0,335.1 75.2,333.0 75.3,337.2 75.5,340.7 75.6,340.2 75.7,340.1 75.9,338.2 76.0,338.8 76.2,340.0 76.3,337.8 76.4,338.5 76.6,337.1 76.7,340.4 76.9,335.9 77.0,339.4 77.1,333.9 77.3,339.7 77.4,339.4 77.6,336.8 77.7,336.6 77.8,336.9 78.0,336.9 78.1,335.2 78.3,336.6 78.4,336.2 78.5,335.5 78.7,338.3 78.8,335.8 79.0,338.0 79.1,340.7 79.2,341.1 79.4,337.5 79.5,339.7 79.7,338.1 79.8,342.8 79.9,341.3 80.1,340.2 80.2,337.5 80.4,337.4 80.5,339.3 80.6,335.3 80.8,337.8 80.9,340.0 81.1,335.9 81.2,334.4 81.3,336.7 81.5,336.5 81.6,338.9 81.8,337.3 81.9,338.9 82.0,335.0 82.2,342.6 82.3,339.7 82.5,337.6 82.6,340.1 82.7,342.1 82.9,342.4 83.0,339.1 83.2,340.5 83.3,340.8 83.4,336.3 83.6,335.6 83.7,343.6 83.9,340.5 84.0,341.4 84.1,338.3 84.3,341.0 84.4,339.7 84.6,337.2 84.7,335.6 84.8,335.6 85.0,337.0 85.1,339.7 85.3,338.3 85.4,341.7 85.5,333.6 85.7,337.9 85.8,336.4 86.0,333.9 86.1,329.2 86.2,338.8 86.4,337.5 86.5,336.0 86.7,338.7 86.8,334.9 86.9,330.3 87.1,333.8 87.2,342.0 87.4,340.5 87.5,335.9 87.6,337.3 87.8,337.1 87.9,338.3 88.1,338.9 88.2,337.9 88.3,336.4 88.5,335.6 88.6,334.6 88.8,331.3 88.9,336.9 89.0,335.4 89.2,337.4 89.3,337.2 89.5,335.4 89.6,336.6 89.7,338.7 89.9,339.8 90.0,336.1 90.2,336.4 90.3,339.3 90.4,338.7 90.6,338.9 90.7,337.9 90.9,339.9 91.0,338.5 91.1,343.8 91.3,344.1 91.4,336.8 91.6,341.9 91.7,338.1 91.8,336.6 92.0,339.1 92.1,333.2 92.3,339.1 92.4,338.1 92.5,338.5 92.7,336.2 92.8,340.6 93.0,333.4 93.1,337.6 93.2,338.4 93.4,335.8 93.5,337.2 93.7,332.2 93.8,335.0 93.9,338.0 94.1,337.6 94.2,338.9 94.4,335.9 94.5,337.1 94.6,335.9 94.8,337.9 94.9,339.0 95.1,339.6 95.2,338.6 95.3,335.8 95.5,338.0 95.6,335.4 95.8,333.5 95.9,338.0 96.0,337.9 96.2,339.4 96.3,339.6 96.5,337.7 96.6,336.1 96.7,338.0 96.9,338.3 97.0,339.0 97.2,335.1 97.3,337.7 97.4,339.7 97.6,342.4 97.7,334.7 97.9,341.8 98.0,337.8 98.1,335.4 98.3,341.2 98.4,336.1 98.6,335.9 98.7,339.8 98.8,340.4 99.0,338.3 99.1,336.5 99.3,334.8 99.4,338.1 99.5,332.8 99.7,334.5 99.8,339.4 100.0,338.6 100.1,339.8 100.2,338.5 100.4,334.5 100.5,337.8 100.7,332.9 100.8,338.0 100.9,339.3 101.1,334.2 101.2,338.4 101.4,336.3 101.5,335.8 101.6,331.9 101.8,335.7 101.9,337.8 102.1,332.3 102.2,334.9 102.3,334.4 102.5,332.4 102.6,338.0 102.8,335.9 102.9,335.9 103.0,339.0 103.2,334.3 103.3,342.7 103.5,334.9 103.6,333.5 103.7,337.3 103.9,336.8 104.0,334.0 104.2,334.2 104.3,337.8 104.4,336.8 104.6,337.1 104.7,338.1 104.9,335.0 105.0,339.0 105.1,336.5 105.3,338.0 105.4,334.7 105.6,338.2 105.7,337.3 105.8,343.2 106.0,336.6 106.1,340.2 106.3,337.6 106.4,340.5 106.5,337.8 106.7,338.4 106.8,332.9 107.0,335.0 107.1,340.0 107.2,338.8 107.4,335.7 107.5,337.6 107.7,339.9 107.8,337.6 107.9,338.3 108.1,341.0 108.2,340.8 108.4,337.7 108.5,338.5 108.6,339.2 108.8,338.5 108.9,338.6 109.1,336.9 109.2,340.0 109.3,336.7 109.5,336.8 109.6,341.4 109.8,342.5 109.9,342.5 110.0,339.3 110.2,337.4 110.3,340.0 110.5,341.6 110.6,338.6 110.7,337.4 110.9,334.7 111.0,334.6 111.2,341.6 111.3,334.9 111.4,336.5 111.6,337.2 111.7,338.3 111.9,335.4 112.0,338.9 112.1,338.9 112.3,337.9 112.4,336.4 112.6,337.0 112.7,333.8 112.8,339.1 113.0,336.7 113.1,335.0 113.3,337.8 113.4,338.9 113.5,338.7 113.7,339.3 113.8,340.4 114.0,337.0 114.1,338.5 114.2,338.6 114.4,335.1 114.5,340.3 114.7,337.4 114.8,339.6 114.9,338.7 115.1,336.4 115.2,339.7 115.4,339.9 115.5,338.2 115.6,331.9 115.8,340.5 115.9,337.4 116.1,336.2 116.2,336.3 116.3,335.1 116.5,336.5 116.6,338.4 116.8,334.8 116.9,337.3 117.0,335.6 117.2,333.4 117.3,335.9 117.5,337.2 117.6,338.6 117.7,336.5 117.9,338.3 118.0,339.5 118.2,333.5 118.3,338.1 118.4,335.9 118.6,336.2 118.7,338.6 118.9,336.2 119.0,339.2 119.1,339.4 119.3,339.0 119.4,337.8 119.6,342.8 119.7,335.1 119.8,333.9 120.0,336.8 120.1,335.0 120.3,338.1 120.4,336.2 120.5,336.2 120.7,337.5 120.8,335.7 121.0,333.6 121.1,336.0 121.2,338.9 121.4,337.9 121.5,339.3 121.7,340.8 121.8,339.1 121.9,336.0 122.1,335.7 122.2,338.1 122.4,340.4 122.5,339.9 122.6,338.9 122.8,335.4 122.9,338.1 123.1,338.3 123.2,339.3 123.3,334.2 123.5,335.3 123.6,336.9 123.8,336.9 123.9,335.3 124.0,337.5 124.2,335.9 124.3,338.6 124.5,335.4 124.6,336.7 124.7,332.1 124.9,336.7 125.0,334.9 125.2,337.7 125.3,335.9 125.4,338.7 125.6,335.2 125.7,333.5 125.9,336.6 126.0,337.6 126.1,335.1 126.3,334.1 126.4,338.3 126.6,339.0 126.7,338.5 126.8,337.4 127.0,337.4 127.1,340.8 127.3,335.9 127.4,336.1 127.5,336.0 127.7,339.5 127.8,339.9 128.0,337.5 128.1,337.3 128.2,340.9 128.4,338.6 128.5,341.0 128.7,337.3 128.8,337.6 128.9,336.3 129.1,339.7 129.2,339.0 129.4,336.5 129.5,340.1 129.6,338.8 129.8,339.3 129.9,342.4 130.1,341.5 130.2,340.5 130.3,338.7 130.5,336.9 130.6,338.9 130.8,335.6 130.9,341.2 131.0,335.0 131.2,337.3 131.3,338.1 131.5,338.7 131.6,339.8 131.7,340.0 131.9,337.0 132.0,340.7 132.2,338.1 132.3,335.1 132.4,334.6 132.6,335.5 132.7,335.6 132.9,337.4 133.0,334.2 133.1,334.5 133.3,333.8 133.4,335.8 133.6,332.5 133.7,336.1 133.8,333.5 134.0,334.4 134.1,335.5 134.3,335.2 134.4,339.6 134.5,332.7 134.7,330.5 134.8,331.8 135.0,335.5 135.1,332.0 135.2,335.6 135.4,333.3 135.5,334.8 135.7,330.6 135.8,335.0 135.9,335.0 136.1,331.1 136.2,334.9 136.4,336.9 136.5,332.1 136.6,330.2 136.8,330.5 136.9,330.8 137.1,332.6 137.2,333.7 137.3,329.6 137.5,329.0 137.6,327.3 137.8,328.3 137.9,329.5 138.0,325.2 138.2,329.0 138.3,328.9 138.5,329.0 138.6,325.8 138.7,323.8 138.9,325.3 139.0,323.7 139.2,322.2 139.3,323.1 139.4,321.7 139.6,325.8 139.7,323.6 139.9,323.1 140.0,319.9 140.1,322.4 140.3,319.5 140.4,320.7 140.6,317.3 140.7,318.4 140.8,314.8 141.0,315.8 141.1,314.8 141.3,312.6 141.4,313.1 141.5,311.4 141.7,310.5 141.8,310.7 142.0,310.2 142.1,307.3 142.2,307.7 142.4,306.1 142.5,303.4 142.7,304.0 142.8,299.1 142.9,300.7 143.1,298.0 143.2,296.0 143.4,294.4 143.5,294.1 143.6,292.6 143.8,289.9 143.9,286.5 144.1,284.3 144.2,284.1 144.3,282.8 144.5,279.4 144.6,279.1 144.8,276.8 144.9,274.6 145.0,271.1 145.2,271.1 145.3,268.7 145.5,266.9 145.6,263.6 145.7,259.6 145.9,259.2 146.0,257.5 146.2,254.1 146.3,250.8 146.4,250.5 146.6,248.5 146.7,244.3 146.9,242.8 147.0,240.0 147.1,240.0 147.3,238.0 147.4,238.0 147.6,233.4 147.7,234.3 147.8,231.2 148.0,230.4 148.1,227.6 148.3,228.3 148.4,226.1 148.5,226.3 148.7,226.2 148.8,226.2 149.0,226.4 149.1,225.5 149.2,224.8 149.4,227.3 149.5,226.8 149.7,226.9 149.8,229.7 149.9,229.9 150.1,231.6 150.2,230.4 150.4,233.1 150.5,237.5 150.6,238.2 150.8,239.5 150.9,240.2 151.1,242.8 151.2,245.4 151.3,247.1 151.5,249.2 151.6,249.7 151.8,252.9 151.9,255.5 152.0,258.8 152.2,260.9 152.3,262.6 152.5,264.0 152.6,266.1 152.7,269.3 152.9,269.7 153.0,273.0 153.2,274.9 153.3,276.9 153.4,280.9 153.6,280.9 153.7,283.9 153.9,286.5 154.0,287.1 154.1,288.3 154.3,288.7 154.4,293.4 154.6,292.2 154.7,293.1 154.8,297.6 155.0,296.4 155.1,298.2 155.3,300.1 155.4,301.0 155.5,301.3 155.7,305.0 155.8,306.6 156.0,308.0 156.1,308.4 156.2,309.1 156.4,310.1 156.5,312.9 156.7,313.5 156.8,313.1 156.9,314.8 157.1,314.2 157.2,316.8 157.4,315.9 157.5,317.7 157.6,318.4 157.8,316.3 157.9,320.8 158.1,320.6 158.2,320.4 158.3,321.0 158.5,322.4 158.6,322.8 158.8,323.9 158.9,324.3 159.0,325.4 159.2,325.3 159.3,323.6 159.5,324.0 159.6,327.7 159.7,327.2 159.9,327.0 160.0,325.5 160.2,326.7 160.3,326.8 160.4,329.2 160.6,327.4 160.7,326.9 160.9,327.9 161.0,329.3 161.1,331.8 161.3,329.0 161.4,331.5 161.6,329.4 161.7,329.6 161.8,329.2 162.0,331.8 162.1,330.1 162.3,332.4 162.4,330.5 162.5,333.9 162.7,331.7 162.8,331.6 163.0,329.9 163.1,333.8 163.2,332.4 163.4,329.8 163.5,332.3 163.7,331.6 163.8,331.7 163.9,333.1 164.1,333.0 164.2,329.3 164.4,336.4 164.5,332.9 164.6,332.8 164.8,334.6 164.9,331.9 165.1,335.6 165.2,333.6 165.3,331.9 165.5,333.5 165.6,332.7 165.8,334.9 165.9,333.2 166.0,335.0 166.2,331.1 166.3,333.4 166.5,334.9 166.6,334.8 166.7,334.2 166.9,335.2 167.0,335.3 167.2,334.1 167.3,334.4 167.4,335.4 167.6,334.3 167.7,330.2 167.9,331.6 168.0,333.0 168.1,334.9 168.3,333.9 168.4,339.2 168.6,335.2 168.7,334.5 168.8,332.2 169.0,334.8 169.1,334.9 169.3,331.5 169.4,332.7 169.5,329.9 169.7,335.6 169.8,336.5 170.0,332.7 170.1,332.3 170.2,329.8 170.4,333.5 170.5,331.6 170.7,329.4 170.8,330.5 170.9,332.2 171.1,332.0 171.2,334.8 171.4,331.3 171.5,329.6 171.6,334.0 171.8,333.1 171.9,331.1 172.1,330.0 172.2,330.4 172.3,332.8 172.5,332.5 172.6,332.2 172.8,333.4 172.9,331.0 173.0,333.8 173.2,332.0 173.3,329.6 173.5,332.6 173.6,332.3 173.7,330.9 173.9,334.4 174.0,329.7 174.2,332.3 174.3,332.5 174.4,331.0 174.6,332.0 174.7,335.0 174.9,330.4 175.0,330.4 175.1,331.4 175.3,332.5 175.4,333.3 175.6,332.5 175.7,330.1 175.8,333.0 176.0,332.4 176.1,332.7 176.3,329.0 176.4,328.8 176.5,330.1 176.7,330.3 176.8,330.8 177.0,329.2 177.1,329.1 177.2,331.0 177.4,327.6 177.5,328.7 177.7,330.3 177.8,331.2 177.9,327.6 178.1,332.2 178.2,330.4 178.4,330.9 178.5,331.1 178.6,330.0 178.8,328.3 178.9,329.6 179.1,328.2 179.2,328.9 179.3,331.0 179.5,329.5 179.6,328.3 179.8,330.3 179.9,329.0 180.0,330.6 180.2,327.1 180.3,328.4 180.5,328.2 180.6,331.0 180.7,330.9 180.9,329.7 181.0,330.6 181.2,331.5 181.3,334.5 181.4,330.7 181.6,331.7 181.7,332.9 181.9,331.1 182.0,331.3 182.1,330.7 182.3,332.0 182.4,332.4 182.6,333.0 182.7,332.6 182.8,334.3 183.0,332.0 183.1,332.1 183.3,331.6 183.4,333.6 183.5,332.1 183.7,331.7 183.8,330.5 184.0,331.4 184.1,333.2 184.2,328.9 184.4,330.7 184.5,330.9 184.7,330.9 184.8,331.9 184.9,331.3 185.1,331.8 185.2,331.8 185.4,332.9 185.5,330.7 185.6,331.2 185.8,330.2 185.9,330.4 186.1,329.5 186.2,328.3 186.3,329.7 186.5,330.2 186.6,327.4 186.8,328.3 186.9,328.0 187.0,325.4 187.2,329.7 187.3,329.0 187.5,328.6 187.6,328.3 187.7,326.3 187.9,324.7 188.0,327.5 188.2,327.9 188.3,327.8 188.4,328.0 188.6,330.0 188.7,330.2 188.9,329.8 189.0,329.7 189.1,333.5 189.3,332.3 189.4,331.1 189.6,330.6 189.7,330.7 189.8,329.6 190.0,333.1 190.1,334.2 190.3,333.9 190.4,334.4 190.5,335.0 190.7,336.0 190.8,336.1 191.0,333.8 191.1,336.7 191.2,336.1 191.4,336.6 191.5,334.7 191.7,338.2 191.8,336.5 191.9,336.1 192.1,335.4 192.2,336.9 192.4,337.0 192.5,336.8 192.6,339.2 192.8,338.8 192.9,337.3 193.1,336.7 193.2,337.0 193.3,338.2 193.5,337.5 193.6,338.4 193.8,337.8 193.9,341.0 194.0,338.9 194.2,338.2 194.3,338.5 194.5,337.7 194.6,337.7 194.7,338.6 194.9,336.0 195.0,338.8 195.2,336.5 195.3,337.8 195.4,337.8 195.6,339.7 195.7,340.8 195.9,340.6 196.0,338.0 196.1,338.3 196.3,338.6 196.4,338.7 196.6,339.9 196.7,339.3 196.8,334.6 197.0,340.8 197.1,340.2 197.3,340.5 197.4,337.9 197.5,338.7 197.7,338.3 197.8,338.0 198.0,336.4 198.1,338.0 198.2,335.7 198.4,338.1 198.5,339.8 198.7,339.0 198.8,337.9 198.9,337.1 199.1,338.4 199.2,336.1 199.4,335.9 199.5,335.8 199.6,335.9 199.8,335.8 199.9,338.3 200.1,338.9 200.2,338.5 200.3,337.5 200.5,338.2 200.6,336.2 200.8,338.0 200.9,339.8 201.0,339.8 201.2,335.9 201.3,337.9 201.5,337.5 201.6,339.2 201.7,338.3 201.9,337.9 202.0,337.2 202.2,338.2 202.3,337.8 202.4,338.0 202.6,337.7 202.7,336.2 202.9,338.3 203.0,338.3 203.1,337.9 203.3,337.9 203.4,339.1 203.6,338.8 203.7,339.5 203.8,338.2 204.0,338.3 204.1,337.2 204.3,335.7 204.4,335.5 204.5,337.6 204.7,337.1 204.8,336.9 205.0,333.8 205.1,336.5 205.2,336.9 205.4,336.2 205.5,336.3 205.7,334.4 205.8,336.5 205.9,338.3 206.1,332.6 206.2,337.4 206.4,338.8 206.5,337.1 206.6,339.6 206.8,337.1 206.9,337.5 207.1,338.0 207.2,337.2 207.3,338.9 207.5,334.9 207.6,337.1 207.8,335.1 207.9,335.7 208.0,337.7 208.2,336.3 208.3,332.5 208.5,339.6 208.6,338.7 208.7,342.8 208.9,337.9 209.0,338.2 209.2,335.0 209.3,338.1 209.4,337.6 209.6,338.8 209.7,338.2 209.9,337.3 210.0,335.7 210.1,339.1 210.3,337.3 210.4,336.0 210.6,338.6 210.7,335.6 210.8,337.4 211.0,335.5 211.1,337.8 211.3,332.3 211.4,342.7 211.5,339.6 211.7,338.8 211.8,338.7 212.0,339.2 212.1,339.5 212.2,338.8 212.4,337.1 212.5,338.7 212.7,335.5 212.8,339.0 212.9,339.2 213.1,337.8 213.2,339.4 213.4,338.3 213.5,342.0 213.6,338.6 213.8,339.8 213.9,340.0 214.1,339.4 214.2,339.7 214.3,339.0 214.5,339.5 214.6,339.6 214.8,340.5 214.9,341.3 215.0,339.5 215.2,341.3 215.3,339.5 215.5,338.3 215.6,338.9 215.7,340.3 215.9,339.1 216.0,339.4 216.2,339.5 216.3,340.7 216.4,340.1 216.6,338.5 216.7,339.7 216.9,338.8 217.0,339.8 217.1,341.1 217.3,338.5 217.4,339.5 217.6,340.2 217.7,338.9 217.8,336.9 218.0,339.2 218.1,337.0 218.3,339.2 218.4,338.2 218.5,338.2 218.7,339.9 218.8,338.5 219.0,337.7 219.1,335.2 219.2,336.6 219.4,336.3 219.5,336.8 219.7,335.4 219.8,337.6 219.9,338.2 220.1,336.1 220.2,334.7 220.4,336.5 220.5,335.9 220.6,337.3 220.8,335.9 220.9,335.0 221.1,334.1 221.2,335.7 221.3,332.7 221.5,334.1 221.6,336.2 221.8,335.0 221.9,335.1 222.0,334.7 222.2,331.9 222.3,334.4 222.5,335.3 222.6,335.2 222.7,333.3 222.9,334.5 223.0,335.4 223.2,334.5 223.3,335.9 223.4,334.0 223.6,332.0 223.7,334.6 223.9,336.0 224.0,334.3 224.1,334.0 224.3,335.0 224.4,333.8 224.6,333.2 224.7,331.4 224.8,332.4 225.0,334.0 225.1,334.5 225.3,332.5 225.4,332.4 225.5,331.6 225.7,332.9 225.8,331.5 226.0,330.7 226.1,332.0 226.2,329.2 226.4,330.8 226.5,330.7 226.7,331.0 226.8,329.9 226.9,328.9 227.1,329.5 227.2,327.6 227.4,328.8 227.5,328.2 227.6,331.1 227.8,326.2 227.9,327.9 228.1,329.0 228.2,327.3 228.3,325.8 228.5,327.4 228.6,328.4 228.8,326.2 228.9,326.3 229.0,323.9 229.2,324.1 229.3,324.3 229.5,323.7 229.6,322.4 229.7,321.9 229.9,321.3 230.0,320.5 230.2,320.1 230.3,319.4 230.4,319.4 230.6,317.5 230.7,318.0 230.9,318.4 231.0,316.2 231.1,314.9 231.3,313.7 231.4,313.1 231.6,311.7 231.7,311.8 231.8,310.6 232.0,310.3 232.1,308.9 232.3,308.2 232.4,307.7 232.5,306.1 232.7,306.4 232.8,304.0 233.0,301.7 233.1,301.3 233.2,300.2 233.4,298.5 233.5,297.8 233.7,296.5 233.8,295.8 233.9,293.6 234.1,291.9 234.2,291.1 234.4,288.9 234.5,287.4 234.6,287.6 234.8,287.4 234.9,286.1 235.1,286.0 235.2,284.4 235.3,284.0 235.5,286.0 235.6,282.7 235.8,284.1 235.9,283.4 236.0,281.5 236.2,284.3 236.3,283.5 236.5,284.4 236.6,284.7 236.7,285.3 236.9,286.4 237.0,288.0 237.2,287.4 237.3,287.9 237.4,289.6 237.6,290.4 237.7,289.2 237.9,292.5 238.0,293.0 238.1,294.0 238.3,294.5 238.4,298.1 238.6,298.3 238.7,298.8 238.8,300.0 239.0,301.3 239.1,302.5 239.3,304.6 239.4,305.1 239.5,305.5 239.7,307.3 239.8,308.4 240.0,308.2 240.1,309.6 240.2,311.6 240.4,311.8 240.5,313.7 240.7,312.7 240.8,314.0 240.9,314.5 241.1,315.3 241.2,317.2 241.4,318.2 241.5,318.2 241.6,318.7 241.8,320.8 241.9,321.4 242.1,319.1 242.2,321.3 242.3,320.3 242.5,321.3 242.6,322.6 242.8,322.7 242.9,324.8 243.0,324.5 243.2,325.2 243.3,325.8 243.5,328.1 243.6,327.2 243.7,328.3 243.9,328.4 244.0,329.5 244.2,328.7 244.3,329.2 244.4,330.9 244.6,330.2 244.7,328.8 244.9,329.4 245.0,330.6 245.1,331.8 245.3,330.8 245.4,333.4 245.6,332.6 245.7,332.1 245.8,330.2 246.0,333.5 246.1,333.6 246.3,331.9 246.4,334.7 246.5,335.2 246.7,335.6 246.8,333.7 247.0,333.4 247.1,331.8 247.2,334.6 247.4,333.1 247.5,334.2 247.7,335.0 247.8,333.8 247.9,334.5 248.1,333.7 248.2,334.0 248.4,333.8 248.5,335.5 248.6,336.6 248.8,334.3 248.9,333.6 249.1,335.3 249.2,336.1 249.3,337.7 249.5,334.5 249.6,335.9 249.8,335.0 249.9,335.6 250.0,336.0 250.2,335.7 250.3,336.8 250.5,335.7 250.6,338.1 250.7,336.5 250.9,333.9 251.0,337.6 251.2,337.5 251.3,336.9 251.4,336.7 251.6,337.1 251.7,337.7 251.9,336.6 252.0,334.9 252.1,339.0 252.3,337.4 252.4,335.8 252.6,337.3 252.7,337.6 252.8,336.4 253.0,337.4 253.1,334.9 253.3,337.0 253.4,336.8 253.5,337.8 253.7,335.0 253.8,338.4 254.0,339.4 254.1,337.4 254.2,337.4 254.4,339.2 254.5,338.4 254.7,338.6 254.8,337.1 254.9,337.8 255.1,336.3 255.2,334.4 255.4,337.9 255.5,337.9 255.6,335.3 255.8,338.5 255.9,339.1 256.1,338.9 256.2,337.8 256.3,338.7 256.5,337.2 256.6,336.4 256.8,337.0 256.9,336.1 257.0,338.8 257.2,334.0 257.3,337.9 257.5,335.7 257.6,335.9 257.7,337.3 257.9,336.3 258.0,337.6 258.2,336.1 258.3,336.1 258.4,336.3 258.6,337.5 258.7,335.3 258.9,335.7 259.0,335.4 259.1,335.5 259.3,334.7 259.4,335.7 259.6,336.5 259.7,337.6 259.8,334.6 260.0,335.5 260.1,337.7 260.3,334.3 260.4,336.7 260.5,334.9 260.7,336.1 260.8,334.8 261.0,334.7 261.1,335.8 261.2,338.7 261.4,336.9 261.5,337.5 261.7,336.2 261.8,336.6 261.9,335.7 262.1,336.0 262.2,335.1 262.4,337.6 262.5,337.0 262.6,335.8 262.8,336.4 262.9,335.6 263.1,337.1 263.2,336.8 263.3,336.8 263.5,337.3 263.6,337.1 263.8,338.0 263.9,335.6 264.0,337.2 264.2,336.2 264.3,337.4 264.5,335.8 264.6,334.5 264.7,335.9 264.9,335.6 265.0,335.1 265.2,335.9 265.3,337.6 265.4,335.9 265.6,337.0 265.7,337.7 265.9,337.3 266.0,336.6 266.1,337.0 266.3,335.5 266.4,334.4 266.6,334.0 266.7,336.3 266.8,336.5 267.0,334.5 267.1,334.5 267.3,331.4 267.4,334.6 267.5,333.5 267.7,331.4 267.8,333.5 268.0,333.5 268.1,333.6 268.2,334.7 268.4,333.1 268.5,332.1 268.7,334.6 268.8,333.1 268.9,335.1 269.1,334.7 269.2,334.3 269.4,336.2 269.5,334.5 269.6,335.9 269.8,336.0 269.9,335.9 270.1,336.5 270.2,337.3 270.3,336.2 270.5,336.3 270.6,340.6 270.8,336.4 270.9,336.0 271.0,337.4 271.2,332.1 271.3,337.1 271.5,336.6 271.6,337.3 271.7,337.7 271.9,337.4 272.0,337.1 272.2,338.6 272.3,336.5 272.4,335.8 272.6,336.9 272.7,337.9 272.9,337.3 273.0,339.4 273.1,337.6 273.3,338.5 273.4,339.0 273.6,336.7 273.7,338.9 273.8,340.0 274.0,337.2 274.1,337.9 274.3,338.1 274.4,333.5 274.5,337.5 274.7,337.7 274.8,336.7 275.0,337.7 275.1,337.1 275.2,336.7 275.4,337.5 275.5,335.5 275.7,338.3 275.8,338.4 275.9,338.2 276.1,338.6 276.2,337.5 276.4,337.5 276.5,336.2 276.6,336.3 276.8,336.4 276.9,339.4 277.1,337.8 277.2,340.0 277.3,339.5 277.5,337.6 277.6,338.1 277.8,337.6 277.9,337.3 278.0,339.3 278.2,339.8 278.3,337.9 278.5,340.4 278.6,340.2 278.7,338.9 278.9,339.7 279.0,338.3 279.2,339.4 279.3,340.0 279.4,337.4 279.6,341.1 279.7,337.6 279.9,339.6 280.0,340.0 280.1,340.4 280.3,338.5 280.4,338.9 280.6,342.9 280.7,341.3 280.8,340.3 281.0,338.6 281.1,339.7 281.3,337.4 281.4,338.3 281.5,339.6 281.7,340.1 281.8,337.5 282.0,339.8 282.1,339.9 282.2,337.8 282.4,339.1 282.5,338.7 282.7,343.4 282.8,337.3 282.9,339.1 283.1,338.4 283.2,340.7 283.4,335.9 283.5,340.2 283.6,338.0 283.8,338.8 283.9,336.4 284.1,336.6 284.2,337.7 284.3,337.9 284.5,335.1 284.6,337.0 284.8,337.1 284.9,337.4 285.0,338.2 285.2,337.7 285.3,337.0 285.5,335.9 285.6,335.4 285.7,339.7 285.9,338.7 286.0,337.0 286.2,338.0 286.3,335.7 286.4,337.9 286.6,336.6 286.7,336.9 286.9,337.5 287.0,337.6 287.1,337.0 287.3,337.4 287.4,337.1 287.6,335.9 287.7,336.3 287.8,336.6 288.0,338.4 288.1,335.3 288.3,336.7 288.4,337.6 288.5,338.7 288.7,335.5 288.8,335.1 289.0,335.8 289.1,336.2 289.2,337.1 289.4,336.0 289.5,336.3 289.7,335.7 289.8,335.2 289.9,337.3 290.1,337.8 290.2,335.7 290.4,334.9 290.5,336.4 290.6,334.1 290.8,334.2 290.9,335.6 291.1,337.3 291.2,334.9 291.3,335.3 291.5,336.7 291.6,333.8 291.8,333.3 291.9,337.0 292.0,335.7 292.2,334.2 292.3,335.0 292.5,335.2 292.6,333.9 292.7,336.6 292.9,332.3 293.0,335.4 293.2,334.1 293.3,333.7 293.4,333.7 293.6,332.6 293.7,332.9 293.9,332.4 294.0,331.4 294.1,333.2 294.3,331.1 294.4,332.0 294.6,333.9 294.7,331.4 294.8,331.7 295.0,332.7 295.1,331.4 295.3,332.4 295.4,330.2 295.5,329.6 295.7,329.7 295.8,329.5 296.0,330.0 296.1,331.0 296.2,328.2 296.4,328.3 296.5,329.0 296.7,328.0 296.8,327.4 296.9,328.2 297.1,326.2 297.2,325.4 297.4,327.1 297.5,326.3 297.6,324.7 297.8,323.5 297.9,323.8 298.1,323.7 298.2,323.7 298.3,323.2 298.5,321.1 298.6,320.8 298.8,319.9 298.9,319.4 299.0,318.3 299.2,317.7 299.3,317.0 299.5,316.4 299.6,314.3 299.7,314.4 299.9,314.2 300.0,313.1 300.2,312.3 300.3,311.4 300.4,310.2 300.6,309.6 300.7,307.8 300.9,305.9 301.0,306.4 301.1,304.7 301.3,302.2 301.4,302.7 301.6,301.5 301.7,298.9 301.8,298.8 302.0,297.2 302.1,296.3 302.3,294.4 302.4,294.6 302.5,291.6 302.7,290.3 302.8,289.5 303.0,288.5 303.1,286.9 303.2,287.1 303.4,284.3 303.5,285.3 303.7,282.1 303.8,282.0 303.9,281.8 304.1,281.3 304.2,278.7 304.4,277.1 304.5,277.1 304.6,276.3 304.8,276.6 304.9,275.6 305.1,275.9 305.2,274.4 305.3,275.2 305.5,276.4 305.6,275.3 305.8,275.7 305.9,275.3 306.0,275.4 306.2,276.4 306.3,277.0 306.5,275.4 306.6,277.4 306.7,280.1 306.9,280.0 307.0,280.8 307.2,281.1 307.3,282.5 307.4,283.7 307.6,282.9 307.7,287.3 307.9,287.7 308.0,288.1 308.1,290.7 308.3,291.1 308.4,293.3 308.6,292.9 308.7,295.4 308.8,295.1 309.0,297.9 309.1,297.6 309.3,299.8 309.4,301.2 309.5,301.0 309.7,303.2 309.8,304.1 310.0,305.4 310.1,307.0 310.2,307.3 310.4,309.1 310.5,308.7 310.7,309.6 310.8,311.7 310.9,311.3 311.1,313.0 311.2,313.1 311.4,314.4 311.5,315.5 311.6,315.5 311.8,316.3 311.9,316.5 312.1,318.7 312.2,318.2 312.3,319.1 312.5,320.1 312.6,320.6 312.8,320.8 312.9,322.3 313.0,322.7 313.2,322.6 313.3,323.4 313.5,325.3 313.6,325.0 313.7,325.7 313.9,325.8 314.0,326.8 314.2,328.5 314.3,326.3 314.4,328.1 314.6,327.7 314.7,328.9 314.9,328.5 315.0,328.7 315.1,329.1 315.3,329.6 315.4,330.7 315.6,334.1 315.7,330.1 315.8,330.6 316.0,331.2 316.1,333.3 316.3,333.5 316.4,333.7 316.5,333.1 316.7,332.8 316.8,331.9 317.0,333.3 317.1,333.7 317.2,333.2 317.4,330.9 317.5,332.9 317.7,334.6 317.8,333.3 317.9,335.5 318.1,334.1 318.2,334.3 318.4,336.2 318.5,335.3 318.6,333.9 318.8,334.1 318.9,334.7 319.1,335.7 319.2,334.1 319.3,336.9 319.5,337.0 319.6,336.4 319.8,336.5 319.9,336.7 320.0,336.4 320.2,338.1 320.3,334.9 320.5,339.6 320.6,336.2 320.7,337.7 320.9,336.5 321.0,336.8 321.2,337.5 321.3,336.2 321.4,338.3 321.6,338.0 321.7,338.4 321.9,338.7 322.0,337.1 322.1,337.8 322.3,337.7 322.4,339.1 322.6,337.9 322.7,337.1 322.8,338.4 323.0,337.6 323.1,338.9 323.3,341.8 323.4,339.0 323.5,337.2 323.7,338.9 323.8,337.0 324.0,337.6 324.1,338.9 324.2,338.2 324.4,339.8 324.5,338.8 324.7,338.1 324.8,339.1 324.9,338.4 325.1,339.2 325.2,335.6 325.4,337.8 325.5,336.9 325.6,337.7 325.8,337.2 325.9,339.8 326.1,338.4 326.2,337.7 326.3,338.7 326.5,335.1 326.6,339.1 326.8,335.5 326.9,337.8 327.0,339.6 327.2,336.4 327.3,336.6 327.5,335.1 327.6,335.5 327.7,337.6 327.9,337.5 328.0,336.8 328.2,337.6 328.3,336.7 328.4,336.2 328.6,336.7 328.7,335.8 328.9,334.6 329.0,336.2 329.1,337.4 329.3,338.2 329.4,337.6 329.6,336.7 329.7,336.1 329.8,337.5 330.0,337.3 330.1,336.9 330.3,336.5 330.4,337.5 330.5,334.7 330.7,337.8 330.8,339.0 331.0,335.9 331.1,337.9 331.2,336.9 331.4,336.6 331.5,338.1 331.7,338.1 331.8,337.4 331.9,338.8 332.1,339.7 332.2,335.8 332.4,335.7 332.5,337.9 332.6,339.5 332.8,338.3 332.9,336.9 333.1,337.4 333.2,338.2 333.3,338.6 333.5,337.1 333.6,341.4 333.8,336.8 333.9,337.3 334.0,339.8 334.2,339.6 334.3,339.2 334.5,338.0 334.6,337.6 334.7,339.8 334.9,336.1 335.0,336.7 335.2,336.3 335.3,337.3 335.4,338.1 335.6,337.0 335.7,335.7 335.9,337.2 336.0,336.3 336.1,336.8 336.3,337.5 336.4,335.4 336.6,336.2 336.7,335.7 336.8,336.5 337.0,337.8 337.1,335.9 337.3,336.5 337.4,333.6 337.5,334.1 337.7,334.7 337.8,336.6 338.0,334.2 338.1,336.2 338.2,335.1 338.4,334.1 338.5,334.2 338.7,334.1 338.8,332.8 338.9,334.5 339.1,333.1 339.2,332.4 339.4,331.5 339.5,332.2 339.6,331.8 339.8,331.7 339.9,332.5 340.1,330.3 340.2,329.1 340.3,328.6 340.5,327.6 340.6,327.4 340.8,326.6 340.9,327.8 341.0,324.7 341.2,327.0 341.3,324.7 341.5,323.5 341.6,323.3 341.7,323.2 341.9,322.5 342.0,321.4 342.2,321.7 342.3,319.4 342.4,318.9 342.6,319.1 342.7,317.1 342.9,316.6 343.0,316.6 343.1,315.8 343.3,314.7 343.4,314.1 343.6,312.8 343.7,311.9 343.8,311.2 344.0,310.1 344.1,309.9 344.3,308.4 344.4,308.1 344.5,306.7 344.7,306.7 344.8,303.8 345.0,304.9 345.1,302.6 345.2,302.1 345.4,301.2 345.5,301.8 345.7,298.9 345.8,298.8 345.9,298.0 346.1,298.9 346.2,297.5 346.4,295.3 346.5,295.0 346.6,294.5 346.8,293.2 346.9,293.9 347.1,292.6 347.2,290.7 347.3,291.2 347.5,290.5 347.6,289.7 347.8,289.6 347.9,289.4 348.0,288.3 348.2,287.6 348.3,288.0 348.5,286.0 348.6,287.3 348.7,285.4 348.9,285.9 349.0,285.2 349.2,285.0 349.3,283.5 349.4,283.2 349.6,281.1 349.7,282.6 349.9,282.3 350.0,283.6 350.1,282.8 350.3,283.7 350.4,283.6 350.6,284.0 350.7,283.4 350.8,284.0 351.0,282.4 351.1,284.6 351.3,282.9 351.4,284.0 351.5,284.2 351.7,284.0 351.8,283.3 352.0,284.7 352.1,285.5 352.2,286.0 352.4,286.2 352.5,286.3 352.7,286.4 352.8,286.7 352.9,287.4 353.1,287.6 353.2,287.8 353.4,288.2 353.5,288.8 353.6,288.9 353.8,290.3 353.9,290.2 354.1,291.4 354.2,290.8 354.3,291.2 354.5,292.0 354.6,292.6 354.8,293.5 354.9,294.7 355.0,293.5 355.2,295.5 355.3,295.0 355.5,296.1 355.6,297.3 355.7,298.1 355.9,299.6 356.0,299.3 356.2,300.9 356.3,301.3 356.4,301.4 356.6,302.8 356.7,302.4 356.9,304.0 357.0,305.5 357.1,305.4 357.3,305.6 357.4,305.8 357.6,306.7 357.7,307.1 357.8,309.2 358.0,309.2 358.1,309.3 358.3,310.1 358.4,311.6 358.5,310.8 358.7,311.2 358.8,312.9 359.0,312.9 359.1,312.3 359.2,313.9 359.4,313.9 359.5,314.3 359.7,314.7 359.8,315.1 359.9,315.9 360.1,316.8 360.2,316.1 360.4,317.4 360.5,316.7 360.6,317.9 360.8,319.0 360.9,318.5 361.1,319.1 361.2,320.7 361.3,320.5 361.5,320.8 361.6,321.3 361.8,320.4 361.9,321.5 362.0,323.3 362.2,322.9 362.3,323.9 362.5,322.4 362.6,323.1 362.7,324.4 362.9,324.7 363.0,322.9 363.2,324.7 363.3,324.7 363.4,324.7 363.6,325.8 363.7,325.0 363.9,326.2 364.0,326.6 364.1,325.9 364.3,326.6 364.4,324.9 364.6,327.4 364.7,327.2 364.8,326.0 365.0,326.2 365.1,327.8 365.3,329.9 365.4,328.5 365.5,328.2 365.7,328.6 365.8,327.4 366.0,328.8 366.1,328.9 366.2,330.0 366.4,331.6 366.5,330.2 366.7,331.9 366.8,330.9 366.9,331.5 367.1,331.4 367.2,330.7 367.4,331.4 367.5,331.9 367.6,333.9 367.8,332.6 367.9,331.7 368.1,333.5 368.2,333.7 368.3,332.6 368.5,334.2 368.6,334.1 368.8,332.9 368.9,335.1 369.0,333.1 369.2,333.8 369.3,335.3 369.5,333.4 369.6,332.5 369.7,334.5 369.9,335.3 370.0,335.5 370.2,334.9 370.3,334.2 370.4,336.6 370.6,336.5 370.7,335.9 370.9,336.3 371.0,334.2 371.1,336.6 371.3,337.3 371.4,336.9 371.6,337.0 371.7,336.5 371.8,336.5 372.0,334.2 372.1,335.9 372.3,336.6 372.4,335.6 372.5,335.1 372.7,336.2 372.8,335.7 373.0,337.8 373.1,336.3 373.2,336.5 373.4,338.0 373.5,335.7 373.7,337.0 373.8,338.3 373.9,335.9 374.1,336.4 374.2,337.8 374.4,337.7 374.5,336.3 374.6,336.3 374.8,336.4 374.9,333.1 375.1,337.7 375.2,337.9 375.3,336.3 375.5,336.3 375.6,337.9 375.8,334.4 375.9,336.7 376.0,337.4 376.2,336.5 376.3,336.3 376.5,334.2 376.6,337.5 376.7,339.2 376.9,336.7 377.0,337.8 377.2,336.4 377.3,338.6 377.4,338.4 377.6,338.0 377.7,338.5 377.9,338.1 378.0,337.9 378.1,337.4 378.3,338.3 378.4,338.0 378.6,337.1 378.7,337.4 378.8,335.9 379.0,338.9 379.1,337.5 379.3,337.3 379.4,336.1 379.5,339.4 379.7,339.8 379.8,337.5 380.0,337.5 380.1,337.9 380.2,335.8 380.4,336.5 380.5,337.1 380.7,338.2 380.8,337.9 380.9,338.4 381.1,337.9 381.2,338.2 381.4,336.9 381.5,337.7 381.6,337.5 381.8,337.5 381.9,338.5 382.1,337.9 382.2,338.0 382.3,337.9 382.5,339.4 382.6,337.7 382.8,338.8 382.9,337.7 383.0,338.6 383.2,338.6 383.3,338.1 383.5,337.3 383.6,336.9 383.7,338.5 383.9,338.1 384.0,338.2 384.2,338.0 384.3,340.6 384.4,337.9 384.6,336.8 384.7,336.6 384.9,338.9 385.0,336.4 385.1,338.6 385.3,337.5 385.4,338.2 385.6,337.9 385.7,338.7 385.8,336.8 386.0,337.6 386.1,336.8 386.3,335.5 386.4,338.7 386.5,336.1 386.7,337.8 386.8,338.2 387.0,337.6 387.1,336.3 387.2,338.7 387.4,335.9 387.5,338.0 387.7,338.1 387.8,335.7 387.9,336.5 388.1,336.0 388.2,337.3 388.4,334.9 388.5,338.5 388.6,337.5 388.8,336.9 388.9,336.4 389.1,338.2 389.2,337.3 389.3,337.2 389.5,336.4 389.6,336.5 389.8,336.7 389.9,336.0 390.0,337.0 390.2,338.6 390.3,340.3 390.5,337.7 390.6,337.4 390.7,339.3 390.9,336.6 391.0,335.3 391.2,334.2 391.3,336.7 391.4,337.5 391.6,338.7 391.7,335.8 391.9,336.7 392.0,338.8 392.1,335.8 392.3,336.4 392.4,337.0 392.6,336.3 392.7,337.3 392.8,335.4 393.0,336.5 393.1,339.2 393.3,338.1 393.4,337.6 393.5,335.2 393.7,335.9 393.8,338.1 394.0,336.6 394.1,337.9 394.2,335.1 394.4,335.4 394.5,335.8 394.7,337.6 394.8,335.2 394.9,336.1 395.1,335.6 395.2,336.7 395.4,335.6 395.5,337.2 395.6,334.7 395.8,337.4 395.9,334.2 396.1,334.1 396.2,335.8 396.3,334.9 396.5,334.0 396.6,334.7 396.8,334.2 396.9,333.4 397.0,334.6 397.2,334.9 397.3,334.7 397.5,332.6 397.6,335.2 397.7,333.8 397.9,333.3 398.0,332.3 398.2,332.3 398.3,332.3 398.4,332.6 398.6,334.6 398.7,332.4 398.9,332.1 399.0,332.9 399.1,332.7 399.3,331.9 399.4,330.5 399.6,329.2 399.7,328.3 399.8,330.1 400.0,329.0 400.1,329.9 400.3,330.4 400.4,328.1 400.5,327.9 400.7,327.8 400.8,325.9 401.0,327.1 401.1,327.4 401.2,328.4 401.4,325.5 401.5,326.3 401.7,326.4 401.8,324.1 401.9,324.6 402.1,325.2 402.2,323.4 402.4,323.2 402.5,323.3 402.6,323.6 402.8,322.6 402.9,321.7 403.1,322.0 403.2,320.6 403.3,319.9 403.5,320.2 403.6,319.9 403.8,319.7 403.9,319.3 404.0,318.5 404.2,317.2 404.3,316.9 404.5,317.3 404.6,317.6 404.7,316.1 404.9,315.9 405.0,316.3 405.2,314.7 405.3,315.5 405.4,314.3 405.6,313.9 405.7,314.2 405.9,312.5 406.0,313.7 406.1,312.1 406.3,312.0 406.4,311.7 406.6,312.2 406.7,310.8 406.8,311.3 407.0,311.1 407.1,311.3 407.3,310.0 407.4,310.4 407.5,310.5 407.7,311.0 407.8,309.2 408.0,309.9 408.1,309.6 408.2,307.5 408.4,309.5 408.5,309.3 408.7,308.7 408.8,308.9 408.9,309.4 409.1,309.6 409.2,309.7 409.4,309.5 409.5,310.0 409.6,310.7 409.8,310.3 409.9,311.3 410.1,311.7 410.2,311.7 410.3,311.0 410.5,311.4 410.6,310.2 410.8,311.9 410.9,312.1 411.0,312.1 411.2,311.5 411.3,313.7 411.5,314.1 411.6,313.7 411.7,314.6 411.9,314.2 412.0,313.6 412.2,315.1 412.3,315.2 412.4,315.6 412.6,316.1 412.7,315.8 412.9,315.9 413.0,317.8 413.1,317.6 413.3,318.2 413.4,317.6 413.6,317.0 413.7,318.1 413.8,320.2 414.0,320.1 414.1,318.8 414.3,320.0 414.4,319.8 414.5,321.2 414.7,322.7 414.8,321.5 415.0,322.5 415.1,322.5 415.2,322.6 415.4,322.5 415.5,323.1 415.7,324.4 415.8,324.5 415.9,325.0 416.1,324.2 416.2,324.5 416.4,325.4 416.5,325.4 416.6,325.3 416.8,325.7 416.9,327.5 417.1,326.4 417.2,327.2 417.3,327.7 417.5,327.2 417.6,328.8 417.8,327.9 417.9,328.5 418.0,327.8 418.2,328.9 418.3,328.5 418.5,329.2 418.6,328.4 418.7,328.5 418.9,329.1 419.0,329.9 419.2,328.4 419.3,329.6 419.4,329.8 419.6,330.9 419.7,328.3 419.9,329.4 420.0,331.1 420.1,330.9 420.3,331.2 420.4,331.4 420.6,331.4 420.7,331.7 420.8,332.2 421.0,330.6 421.1,331.1 421.3,333.0 421.4,333.1 421.5,331.6 421.7,334.1 421.8,333.3 422.0,333.7 422.1,333.0 422.2,332.6 422.4,333.5 422.5,333.6 422.7,332.9 422.8,334.1 422.9,334.2 423.1,332.9 423.2,333.7 423.4,334.5 423.5,334.0 423.6,335.4 423.8,336.0 423.9,334.1 424.1,335.3 424.2,335.5 424.3,336.0 424.5,333.9 424.6,333.1 424.8,335.8 424.9,336.5 425.0,335.8 425.2,334.8 425.3,336.1 425.5,335.0 425.6,334.4 425.7,335.9 425.9,336.7 426.0,336.8 426.2,336.1 426.3,335.3 426.4,335.0 426.6,336.7 426.7,335.3 426.9,336.5 427.0,336.6 427.1,335.7 427.3,336.3 427.4,336.4 427.6,337.2 427.7,336.0 427.8,336.6 428.0,337.0 428.1,335.7 428.3,336.4 428.4,336.5 428.5,336.6 428.7,336.0 428.8,337.1 429.0,337.5 429.1,338.5 429.2,337.3 429.4,338.7 429.5,336.2 429.7,338.0 429.8,336.8 429.9,336.0 430.1,337.9 430.2,336.9 430.4,339.0 430.5,337.7 430.6,340.1 430.8,337.1 430.9,338.2 431.1,338.2 431.2,337.9 431.3,336.7 431.5,335.8 431.6,337.8 431.8,338.8 431.9,337.7 432.0,336.6 432.2,337.4 432.3,337.9 432.5,338.7 432.6,337.2 432.7,338.9 432.9,337.1 433.0,338.7 433.2,338.1 433.3,340.0 433.4,338.4 433.6,338.9 433.7,337.5 433.9,336.0 434.0,336.4 434.1,337.8 434.3,337.0 434.4,337.6 434.6,335.9 434.7,337.4 434.8,337.0 435.0,338.9 435.1,337.6 435.3,337.3 435.4,337.5 435.5,335.7 435.7,336.5 435.8,339.3 436.0,337.9 436.1,336.1 436.2,337.5 436.4,336.9 436.5,337.7 436.7,337.3 436.8,337.2 436.9,335.9 437.1,336.8 437.2,336.3 437.4,336.8 437.5,337.8 437.6,337.3 437.8,337.4 437.9,337.6 438.1,335.8 438.2,336.5 438.3,337.6 438.5,337.8 438.6,334.6 438.8,335.6 438.9,336.8 439.0,339.1 439.2,335.7 439.3,336.1 439.5,336.4 439.6,336.9 439.7,334.8 439.9,335.3 440.0,335.4 440.2,335.1 440.3,335.2 440.4,333.5 440.6,336.6 440.7,335.9 440.9,335.5 441.0,333.7 441.1,334.4 441.3,333.9 441.4,333.8 441.6,335.7 441.7,335.6 441.8,336.0 442.0,334.6 442.1,335.2 442.3,334.4 442.4,333.5 442.5,333.0 442.7,332.4 442.8,333.6 443.0,332.5 443.1,331.6 443.2,332.6 443.4,332.1 443.5,333.4 443.7,333.7 443.8,332.9 443.9,333.0 444.1,333.7 444.2,330.9 444.4,330.8 444.5,332.0 444.6,331.2 444.8,331.6 444.9,332.2 445.1,331.1 445.2,329.6 445.3,333.1 445.5,329.9 445.6,329.6 445.8,331.3 445.9,329.0 446.0,329.2 446.2,330.1 446.3,329.3 446.5,329.9 446.6,330.5 446.7,329.6 446.9,329.1 447.0,329.7 447.2,329.4 447.3,331.2 447.4,328.1 447.6,330.1 447.7,328.4 447.9,328.8 448.0,326.8 448.1,327.5 448.3,327.2 448.4,326.7 448.6,327.3 448.7,328.8 448.8,326.3 449.0,328.4 449.1,327.1 449.3,327.1 449.4,325.9 449.5,327.0 449.7,327.7 449.8,326.1 450.0,326.4 450.1,326.2 450.2,325.8 450.4,325.2 450.5,326.6 450.7,326.2 450.8,325.0 450.9,326.1 451.1,324.6 451.2,325.1 451.4,323.8 451.5,323.4 451.6,324.3 451.8,325.7 451.9,324.5 452.1,325.0 452.2,325.4 452.3,324.4 452.5,323.4 452.6,324.0 452.8,323.6 452.9,324.2 453.0,323.4 453.2,324.7 453.3,324.5 453.5,323.9 453.6,323.8 453.7,324.0 453.9,323.7 454.0,323.8 454.2,324.3 454.3,323.3 454.4,323.4 454.6,323.6 454.7,322.3 454.9,324.7 455.0,323.6 455.1,324.8 455.3,322.5 455.4,322.5 455.6,323.7 455.7,324.0 455.8,324.7 456.0,324.5 456.1,325.1 456.3,324.3 456.4,326.2 456.5,325.0 456.7,323.3 456.8,324.0 457.0,324.1 457.1,324.7 457.2,324.4 457.4,325.2 457.5,326.2 457.7,324.2 457.8,324.9 457.9,326.8 458.1,326.9 458.2,327.1 458.4,326.2 458.5,327.0 458.6,326.5 458.8,325.2 458.9,326.1 459.1,327.3 459.2,327.0 459.3,326.4 459.5,326.5 459.6,327.7 459.8,327.8 459.9,327.0 460.0,329.1 460.2,327.8 460.3,328.0 460.5,328.6 460.6,329.2 460.7,328.8 460.9,327.6 461.0,331.1 461.2,329.9 461.3,330.0 461.4,329.4 461.6,330.0 461.7,330.6 461.9,330.0 462.0,331.3 462.1,331.4 462.3,330.8 462.4,330.7 462.6,332.1 462.7,333.5 462.8,332.1 463.0,332.9 463.1,332.2 463.3,331.9 463.4,333.7 463.5,332.7 463.7,334.9 463.8,332.8 464.0,332.2 464.1,333.9 464.2,334.5 464.4,334.7 464.5,334.2 464.7,333.4 464.8,335.3 464.9,333.6 465.1,336.4 465.2,334.1 465.4,334.5 465.5,334.5 465.6,336.0 465.8,336.5 465.9,335.2 466.1,335.3 466.2,334.0 466.3,335.7 466.5,332.8 466.6,335.8 466.8,335.1 466.9,334.0 467.0,335.4 467.2,335.3 467.3,336.3 467.5,336.1 467.6,334.8 467.7,335.0 467.9,333.5 468.0,335.3 468.2,333.5 468.3,332.4 468.4,333.3 468.6,334.1 468.7,336.0 468.9,333.9 469.0,334.7 469.1,333.6 469.3,335.2 469.4,335.6 469.6,337.9 469.7,334.9 469.8,334.2 470.0,335.7 470.1,336.2 470.3,335.0 470.4,335.3 470.5,335.0 470.7,334.4 470.8,335.5 471.0,334.4 471.1,336.9 471.2,337.6 471.4,337.0 471.5,336.6 471.7,336.3 471.8,336.6 471.9,335.6 472.1,337.1 472.2,337.1 472.4,337.7 472.5,338.9 472.6,337.7 472.8,339.0 472.9,338.4 473.1,337.2 473.2,338.5 473.3,338.1 473.5,338.7 473.6,338.8 473.8,338.7 473.9,338.3 474.0,339.1 474.2,338.3 474.3,338.0 474.5,340.0 474.6,337.3 474.7,339.3 474.9,339.5 475.0,338.6 475.2,340.0 475.3,339.5 475.4,338.9 475.6,339.2 475.7,339.5 475.9,338.2 476.0,339.0 476.1,339.2 476.3,339.0 476.4,338.1 476.6,339.5 476.7,336.4 476.8,337.9 477.0,338.2 477.1,342.4 477.3,336.8 477.4,337.0 477.5,337.0 477.7,337.7 477.8,337.2 478.0,336.8 478.1,338.5 478.2,338.8 478.4,337.6 478.5,337.0 478.7,337.3 478.8,337.4 478.9,339.3 479.1,336.5 479.2,336.9 479.4,336.8 479.5,337.1 479.6,337.8 479.8,335.9 479.9,336.1 480.1,338.0 480.2,337.1 480.3,338.1 480.5,336.1 480.6,335.3 480.8,336.0 480.9,335.8 481.0,338.8 481.2,335.6 481.3,336.3 481.5,334.4 481.6,336.1 481.7,335.7 481.9,335.6 482.0,336.0 482.2,336.3 482.3,334.8 482.4,334.4 482.6,336.9 482.7,334.2 482.9,335.2 483.0,336.2 483.1,336.4 483.3,335.5 483.4,337.7 483.6,336.3 483.7,334.6 483.8,335.3 484.0,333.8 484.1,334.6 484.3,335.6 484.4,335.3 484.5,335.2 484.7,334.9 484.8,334.4 485.0,335.3 485.1,334.8 485.2,334.6 485.4,335.3 485.5,333.4 485.7,335.8 485.8,334.1 485.9,335.5 486.1,334.2 486.2,333.5 486.4,333.6 486.5,334.2 486.6,333.9 486.8,333.9 486.9,333.4 487.1,332.9 487.2,332.4 487.3,332.1 487.5,332.3 487.6,331.2 487.8,332.4 487.9,332.0 488.0,331.7 488.2,331.0 488.3,331.5 488.5,331.8 488.6,330.3 488.7,330.2 488.9,330.5 489.0,330.8 489.2,329.8 489.3,330.8 489.4,328.7 489.6,331.2 489.7,328.8 489.9,328.2 490.0,329.0 490.1,328.3 490.3,329.4 490.4,328.5 490.6,330.5 490.7,328.7 490.8,329.2 491.0,328.4 491.1,329.0 491.3,328.4 491.4,326.9 491.5,327.5 491.7,327.9 491.8,327.7 492.0,325.9 492.1,325.9 492.2,325.9 492.4,325.8 492.5,326.8 492.7,326.6 492.8,324.9 492.9,325.5 493.1,326.9 493.2,326.9 493.4,326.6 493.5,325.2 493.6,326.0 493.8,326.6 493.9,325.7 494.1,325.5 494.2,325.3 494.3,325.9 494.5,326.4 494.6,326.8 494.8,325.6 494.9,326.1 495.0,324.7 495.2,326.5 495.3,325.3 495.5,326.7 495.6,325.3 495.7,325.8 495.9,326.3 496.0,326.0 496.2,324.4 496.3,325.8 496.4,326.1 496.6,327.6 496.7,326.9 496.9,327.1 497.0,326.6 497.1,327.2 497.3,326.3 497.4,325.4 497.6,325.8 497.7,326.6 497.8,325.9 498.0,326.3 498.1,326.2 498.3,327.4 498.4,324.7 498.5,325.6 498.7,326.6 498.8,326.4 499.0,328.0 499.1,327.3 499.2,326.9 499.4,326.5 499.5,327.1 499.7,327.0 499.8,325.8 499.9,326.7 500.1,327.5 500.2,327.8 500.4,327.7 500.5,329.0 500.6,328.2 500.8,327.9 500.9,328.9 501.1,329.4 501.2,328.2 501.3,329.2 501.5,328.9 501.6,328.6 501.8,329.6 501.9,329.5 502.0,330.6 502.2,330.4 502.3,330.2 502.5,331.4 502.6,331.8 502.7,330.5 502.9,329.9 503.0,330.8 503.2,331.5 503.3,329.9 503.4,330.2 503.6,332.8 503.7,332.0 503.9,332.6 504.0,332.3 504.1,332.0 504.3,332.8 504.4,332.5 504.6,333.5 504.7,332.8 504.8,333.1 505.0,332.8 505.1,332.2 505.3,333.0 505.4,333.8 505.5,332.9 505.7,333.4 505.8,333.1 506.0,333.3 506.1,334.7 506.2,332.7 506.4,333.0 506.5,333.1 506.7,335.3 506.8,334.5 506.9,332.9 507.1,333.5 507.2,334.1 507.4,334.1 507.5,334.0 507.6,335.4 507.8,334.0 507.9,335.2 508.1,335.0 508.2,335.0 508.3,333.7 508.5,334.6 508.6,336.5 508.8,336.0 508.9,334.5 509.0,336.0 509.2,334.5 509.3,336.7 509.5,335.5 509.6,337.6 509.7,337.4 509.9,337.0 510.0,335.4 510.2,336.6 510.3,335.8 510.4,336.2 510.6,336.0 510.7,336.6 510.9,337.3 511.0,337.4 511.1,335.0 511.3,336.0 511.4,335.9 511.6,337.7 511.7,336.0 511.8,337.4 512.0,337.1 512.1,336.1 512.3,336.8 512.4,335.5 512.5,337.8 512.7,338.1 512.8,337.1 513.0,336.9 513.1,336.9 513.2,337.2 513.4,338.2 513.5,336.8 513.7,338.6 513.8,336.5 513.9,337.8 514.1,337.0 514.2,338.1 514.4,339.9 514.5,337.3 514.6,339.0 514.8,334.9 514.9,338.5 515.1,340.2 515.2,338.4 515.3,336.8 515.5,337.8 515.6,338.4 515.8,337.3 515.9,339.7 516.0,339.0 516.2,337.7 516.3,339.0 516.5,338.6 516.6,336.9 516.7,339.9 516.9,340.1 517.0,336.7 517.2,339.5 517.3,338.4 517.4,339.1 517.6,337.5 517.7,337.4 517.9,338.6 518.0,339.8 518.1,337.3 518.3,338.5 518.4,338.0 518.6,339.1 518.7,337.4 518.8,339.0 519.0,338.4 519.1,339.2 519.3,338.6 519.4,337.8 519.5,338.6 519.7,339.0 519.8,338.9 520.0,340.1 520.1,338.5 520.2,340.7 520.4,339.6 520.5,340.2 520.7,338.4 520.8,338.5 520.9,338.6 521.1,338.0 521.2,337.8 521.4,339.5 521.5,339.2 521.6,339.7 521.8,339.9 521.9,338.1 522.1,338.5 522.2,338.0 522.3,338.4 522.5,339.7 522.6,337.4 522.8,339.6 522.9,337.8 523.0,338.9 523.2,340.2 523.3,339.4 523.5,337.2 523.6,338.4 523.7,339.4 523.9,337.1 524.0,338.6 524.2,338.3 524.3,337.0 524.4,337.0 524.6,338.0 524.7,339.1 524.9,338.4 525.0,339.1 525.1,338.4 525.3,338.4 525.4,338.9 525.6,337.7 525.7,338.0 525.8,338.0 526.0,337.9 526.1,337.3 526.3,337.9 526.4,337.9 526.5,339.1 526.7,337.6 526.8,339.0 527.0,337.8 527.1,339.8 527.2,337.5 527.4,335.7 527.5,338.9 527.7,338.8 527.8,338.8 527.9,339.8 528.1,339.5 528.2,338.1 528.4,337.8 528.5,338.7 528.6,338.0 528.8,338.1 528.9,338.2 529.1,339.5 529.2,339.6 529.3,338.8 529.5,339.6 529.6,338.1 529.8,338.6" fill="none" stroke="#000" stroke-width="1.5" stroke-linejoin="round"/>
<g font-family='"Liberation Sans", Arial, sans-serif'>
<text transform="translate(156.06,67.91) rotate(-90)" font-family='"Liberation Serif", "Times New Roman", serif' font-size="15.2" fill="#000" stroke="#000" stroke-width="0.35">(101)</text><text transform="translate(153.60,76.68) rotate(-90) scale(1.057,1)" font-family='"Liberation Sans", sans-serif' font-size="9.30" fill="#000" stroke="#000" stroke-width="0.3">∗</text><text transform="translate(223.73,182.95) rotate(-90)" font-family='"Liberation Sans", Arial, sans-serif' font-size="15.0" fill="#000" stroke="#000" stroke-width="0.15">(111)</text><text transform="translate(222.61,190.25) rotate(-90) scale(1.230,1)" font-family='"Liberation Sans", sans-serif' font-size="11.33" fill="#000">♦</text><text transform="translate(245.65,141.35) rotate(-90)" font-family='"Liberation Sans", Arial, sans-serif' font-size="14.1" fill="#000" stroke="#000" stroke-width="0.15">(004)</text><text transform="translate(242.90,147.76) rotate(-90) scale(1.074,1)" font-family='"Liberation Sans", sans-serif' font-size="6.10" fill="#888" stroke="#888" stroke-width="0.9">∗</text><text transform="translate(261.56,185.47) rotate(-90)" font-family='"Liberation Sans", Arial, sans-serif' font-size="14.7" fill="#000" stroke="#000" stroke-width="0.15">(111)</text><text transform="translate(262.90,191.91) rotate(-90) scale(1.000,1)" font-family='"Liberation Sans", sans-serif' font-size="16.61" fill="#000">•</text><text transform="translate(311.18,166.60) rotate(-90)" font-family='"Liberation Sans", Arial, sans-serif' font-size="14.4" fill="#000" stroke="#000" stroke-width="0.15">(200)</text><text transform="translate(309.20,172.74) rotate(-90) scale(0.961,1)" font-family='"Liberation Sans", sans-serif' font-size="8.72" fill="#383838" stroke="#383838" stroke-width="0.25">∗</text><text transform="translate(356.21,168.42) rotate(-90)" font-family='"Liberation Sans", Arial, sans-serif' font-size="14.5" fill="#000" stroke="#000" stroke-width="0.15">(105)</text><text transform="translate(353.80,173.94) rotate(-90) scale(0.961,1)" font-family='"Liberation Sans", sans-serif' font-size="8.72" fill="#383838" stroke="#383838" stroke-width="0.25">∗</text><text transform="translate(414.59,178.54) rotate(-90)" font-family='"Liberation Sans", Arial, sans-serif' font-size="15.8" fill="#000" stroke="#000" stroke-width="0.15">(204)</text><text transform="translate(412.80,185.04) rotate(-90) scale(0.961,1)" font-family='"Liberation Sans", sans-serif' font-size="8.72" fill="#383838" stroke="#383838" stroke-width="0.25">∗</text><text transform="translate(460.72,183.12) rotate(-90)" font-family='"Liberation Sans", Arial, sans-serif' font-size="16.3" fill="#000" stroke="#000" stroke-width="0.15">(116)</text><text transform="translate(458.10,190.24) rotate(-90) scale(0.961,1)" font-family='"Liberation Sans", sans-serif' font-size="8.72" fill="#383838" stroke="#383838" stroke-width="0.25">∗</text><text transform="translate(500.82,183.72) rotate(-90)" font-family='"Liberation Sans", Arial, sans-serif' font-size="16.3" fill="#000" stroke="#000" stroke-width="0.15">(301)</text><text transform="translate(498.60,190.24) rotate(-90) scale(0.961,1)" font-family='"Liberation Sans", sans-serif' font-size="8.72" fill="#383838" stroke="#383838" stroke-width="0.25">∗</text><text transform="translate(153.76,212.76) rotate(-90)" font-family='"Liberation Serif", "Times New Roman", serif' font-size="15.2" fill="#000" stroke="#000" stroke-width="0.35">(101)</text><text transform="translate(151.60,221.48) rotate(-90) scale(1.057,1)" font-family='"Liberation Sans", sans-serif' font-size="9.30" fill="#000" stroke="#000" stroke-width="0.3">∗</text><text transform="translate(240.53,269.34) rotate(-90)" font-family='"Liberation Sans", Arial, sans-serif' font-size="14.0" fill="#000" stroke="#000" stroke-width="0.15">(004)</text><text transform="translate(239.10,275.44) rotate(-90) scale(0.961,1)" font-family='"Liberation Sans", sans-serif' font-size="8.72" fill="#383838" stroke="#383838" stroke-width="0.25">∗</text><text transform="translate(310.15,262.10) rotate(-90)" font-family='"Liberation Sans", Arial, sans-serif' font-size="14.1" fill="#000" stroke="#000" stroke-width="0.15">(200)</text><text transform="translate(308.40,268.94) rotate(-90) scale(0.961,1)" font-family='"Liberation Sans", sans-serif' font-size="8.72" fill="#383838" stroke="#383838" stroke-width="0.25">∗</text><text transform="translate(354.46,266.77) rotate(-90)" font-family='"Liberation Sans", Arial, sans-serif' font-size="14.5" fill="#000" stroke="#000" stroke-width="0.15">(105)</text><text transform="translate(351.40,273.14) rotate(-90) scale(0.961,1)" font-family='"Liberation Sans", sans-serif' font-size="8.72" fill="#383838" stroke="#383838" stroke-width="0.25">∗</text><text transform="translate(412.52,294.02) rotate(-90)" font-family='"Liberation Sans", Arial, sans-serif' font-size="15.7" fill="#000" stroke="#000" stroke-width="0.15">(204)</text><text transform="translate(410.90,300.54) rotate(-90) scale(0.961,1)" font-family='"Liberation Sans", sans-serif' font-size="8.72" fill="#383838" stroke="#383838" stroke-width="0.25">∗</text><text transform="translate(459.44,309.98) rotate(-90)" font-family='"Liberation Sans", Arial, sans-serif' font-size="16.0" fill="#000" stroke="#000" stroke-width="0.15">(116)</text><text transform="translate(457.30,316.84) rotate(-90) scale(0.961,1)" font-family='"Liberation Sans", sans-serif' font-size="8.72" fill="#383838" stroke="#383838" stroke-width="0.25">∗</text><text transform="translate(503.09,310.57) rotate(-90)" font-family='"Liberation Sans", Arial, sans-serif' font-size="16.0" fill="#000" stroke="#000" stroke-width="0.15">(301)</text><text transform="translate(501.00,316.84) rotate(-90) scale(0.961,1)" font-family='"Liberation Sans", sans-serif' font-size="8.72" fill="#383838" stroke="#383838" stroke-width="0.25">∗</text>
</g>
<g stroke="#000" stroke-linecap="square">
<line x1="44.2" y1="8.6" x2="44.2" y2="370.4" stroke-width="1.7"/>
<line x1="44.2" y1="8.6" x2="530.5" y2="8.6" stroke-width="1.3"/>
<line x1="530.5" y1="8.6" x2="530.5" y2="370.4" stroke-width="1.25"/>
<line x1="44.2" y1="370.4" x2="530.5" y2="370.4" stroke-width="1.45"/>
</g>
<g stroke="#000" stroke-width="1.2"><line x1="44.00" y1="370.4" x2="44.00" y2="377.60"/><line x1="78.75" y1="370.4" x2="78.75" y2="374.60"/><line x1="113.50" y1="370.4" x2="113.50" y2="377.60"/><line x1="148.25" y1="370.4" x2="148.25" y2="374.60"/><line x1="183.00" y1="370.4" x2="183.00" y2="377.60"/><line x1="217.75" y1="370.4" x2="217.75" y2="374.60"/><line x1="252.50" y1="370.4" x2="252.50" y2="377.60"/><line x1="287.25" y1="370.4" x2="287.25" y2="374.60"/><line x1="322.00" y1="370.4" x2="322.00" y2="377.60"/><line x1="356.75" y1="370.4" x2="356.75" y2="374.60"/><line x1="391.50" y1="370.4" x2="391.50" y2="377.60"/><line x1="426.25" y1="370.4" x2="426.25" y2="374.60"/><line x1="461.00" y1="370.4" x2="461.00" y2="377.60"/><line x1="495.75" y1="370.4" x2="495.75" y2="374.60"/><line x1="530.50" y1="370.4" x2="530.50" y2="377.60"/></g>
<g font-family='"Liberation Sans", Arial, sans-serif' font-size="21.5" fill="#000" stroke="#000" stroke-width="0.2"><text x="44.00" y="399.5" text-anchor="middle">10</text><text x="113.50" y="399.5" text-anchor="middle">20</text><text x="183.00" y="399.5" text-anchor="middle">30</text><text x="252.50" y="399.5" text-anchor="middle">40</text><text x="322.00" y="399.5" text-anchor="middle">50</text><text x="391.50" y="399.5" text-anchor="middle">60</text><text x="461.00" y="399.5" text-anchor="middle">70</text><text x="530.50" y="399.5" text-anchor="middle">80</text></g>
<text x="234.3" y="428.8" font-family='"Liberation Sans", Arial, sans-serif' font-size="21" font-weight="bold" fill="#000">2<tspan font-weight="normal" font-family='"Liberation Serif", "Times New Roman", serif'>θ</tspan>(degree)</text>
<text transform="translate(24.6,269.6) rotate(-90)" font-family='"Liberation Sans", Arial, sans-serif' font-size="22" font-weight="bold" fill="#000">Intensity(a.u.)</text>
<g font-family='"Liberation Sans", Arial, sans-serif' font-size="16" fill="#000" stroke="#000" stroke-width="0.15">
<text transform="translate(263.54,38.79) scale(1.000,1)" font-family='"Liberation Sans", sans-serif' font-size="21.40" fill="#000">•</text>
<text x="271.3" y="35.8" font-size="16" textLength="20.4" lengthAdjust="spacingAndGlyphs">Ag</text>
<text transform="translate(298.77,36.03) scale(1.206,1)" font-family='"Liberation Sans", sans-serif' font-size="13.79" fill="#000">♦</text>
<text x="308.1" y="35.9" font-size="16.2" textLength="20.6" lengthAdjust="spacingAndGlyphs">Au</text>
<text transform="translate(334.08,33.90) scale(1.114,1)" font-family='"DejaVu Sans", sans-serif' font-size="9.25" fill="#333" stroke="#333" stroke-width="0.35">∗</text>
<text x="342.9" y="35.8" font-size="16" textLength="27.0" lengthAdjust="spacingAndGlyphs">TiO</text>
<text x="370.1" y="36.8" font-size="10.5">2</text>
<line x1="406.2" y1="23.0" x2="442" y2="23.0" stroke="#ff00ff" stroke-width="1.5"/>
<text x="446.2" y="28.4" font-size="15.5">Au-Ag/TiO</text><text x="518.8" y="34.2" font-size="8.5">2</text>
<line x1="406.2" y1="47.3" x2="442" y2="47.3" stroke="#000" stroke-width="1.5"/>
<text x="446.3" y="52.1" font-size="15.3">TiO</text><text x="470.9" y="58.6" font-size="8.5">2</text>
</g>
</svg>
</body></html>
